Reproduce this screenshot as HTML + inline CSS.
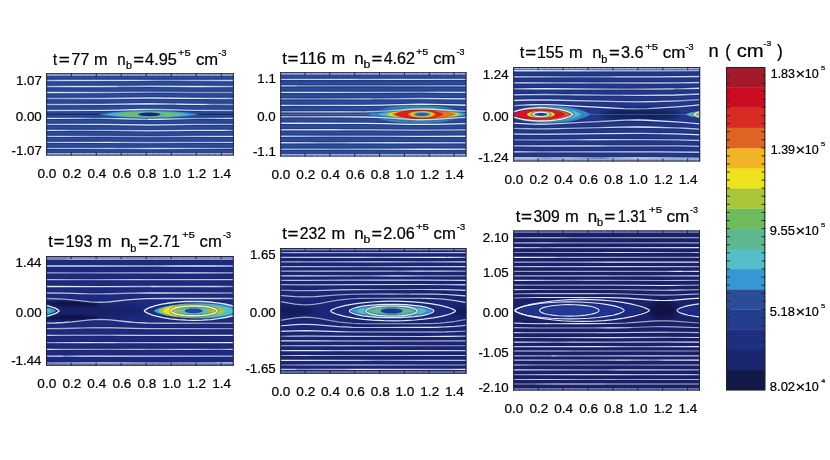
<!DOCTYPE html><html><head><meta charset="utf-8"><style>html,body{margin:0;padding:0;background:#fff;width:830px;height:460px;overflow:hidden}svg text{font-family:"Liberation Sans",Arial,sans-serif}</style></head><body><svg width="830" height="460" viewBox="0 0 830 460" style="position:absolute;left:0;top:0">
<defs><filter id="bl" x="-5%" y="-5%" width="110%" height="110%"><feGaussianBlur stdDeviation="0.6"/></filter><filter id="g2" x="-50%" y="-50%" width="200%" height="200%"><feGaussianBlur stdDeviation="2"/></filter><filter id="g4" x="-50%" y="-50%" width="200%" height="200%"><feGaussianBlur stdDeviation="4"/></filter><filter id="g1" x="-50%" y="-50%" width="200%" height="200%"><feGaussianBlur stdDeviation="1"/></filter><filter id="bl2" x="-5%" y="-5%" width="110%" height="110%"><feGaussianBlur stdDeviation="0.3"/></filter></defs>
<rect width="830" height="460" fill="#fff"/>
<clipPath id="cp0"><rect x="46.2" y="73.3" width="187.60" height="82.20"/></clipPath>
<g clip-path="url(#cp0)">
<rect x="46.2" y="73.3" width="187.60" height="82.20" fill="#2a4a9a"/>
<path d="M46,114.40H110" stroke="#16245e" stroke-width="1.1" opacity="0.9"/>
<path d="M190,114.40H234" stroke="#16245e" stroke-width="1.1" opacity="0.9"/>
<g filter="url(#bl)">
<path d="M99.0,114.4 111.0,112.6 123.0,111.3 135.9,110.5 148.1,110.2 160.4,110.4 167.1,110.8 173.5,111.2 185.9,112.5 192.2,113.3 199.0,114.4 187.0,116.2 175.0,117.5 162.1,118.3 149.9,118.6 137.6,118.4 130.9,118.0 124.5,117.6 112.1,116.3 105.8,115.5 99.0,114.4Z" fill="#3a8ccc"/>
<path d="M106.0,114.4 116.0,113.0 126.1,111.9 137.0,111.2 147.3,111.0 157.6,111.2 168.6,111.8 179.0,112.8 190.0,114.4 180.0,115.8 169.9,116.9 159.0,117.6 148.7,117.8 138.4,117.6 127.4,117.0 117.0,116.0 106.0,114.4Z" fill="#4fb4cc"/>
<path d="M116.5,114.4 118.1,113.9 120.9,113.4 129.1,112.4 138.0,111.8 147.9,111.6 158.0,111.8 167.0,112.4 175.5,113.3 178.9,113.9 180.5,114.4 178.9,114.9 176.1,115.4 167.9,116.4 159.0,117.0 149.1,117.2 139.0,117.0 130.0,116.4 121.5,115.5 118.1,114.9 116.5,114.4Z" fill="#6fbf5c"/>
<path d="M134.0,114.4 134.3,114.0 135.4,113.6 138.8,112.9 143.9,112.5 149.2,112.3 154.6,112.4 159.8,112.9 162.0,113.2 163.6,113.6 164.7,114.0 165.0,114.4 164.7,114.8 163.6,115.2 160.2,115.9 155.1,116.3 149.8,116.5 144.4,116.4 139.2,115.9 137.0,115.6 135.4,115.2 134.3,114.8 134.0,114.4Z" fill="#4cb4c8"/>
<path d="M138.3,114.4 138.5,114.1 139.1,113.7 141.5,113.1 145.0,112.7 149.1,112.6 153.3,112.7 156.9,113.1 159.5,113.7 160.1,114.0 160.3,114.4 160.1,114.7 159.5,115.1 157.1,115.7 153.6,116.1 149.5,116.2 145.3,116.1 141.7,115.7 139.1,115.1 138.5,114.8 138.3,114.4Z" fill="#1a2870"/>
</g>
<g fill="none" stroke="#13235e" stroke-width="3.4" opacity="0.35" filter="url(#bl)"><path d="M44.2,110.50 104.2,110.40 118.2,110.16 140.2,109.52 150.2,109.40 160.2,109.51 194.2,110.37 235.2,110.50"/><path d="M44.2,118.30 104.2,118.40 118.2,118.64 140.2,119.28 150.2,119.40 160.2,119.29 194.2,118.43 235.2,118.30"/><path d="M44.2,104.50 104.2,104.43 150.2,103.76 194.2,104.41 235.2,104.50"/><path d="M44.2,124.30 104.2,124.37 150.2,125.04 194.2,124.39 235.2,124.30"/><path d="M44.2,98.50 104.2,98.45 150.2,98.01 194.2,98.44 235.2,98.50"/><path d="M44.2,130.30 104.2,130.35 150.2,130.79 194.2,130.36 235.2,130.30"/><path d="M44.2,92.50 104.2,92.47 150.2,92.17 194.2,92.46 235.2,92.50"/><path d="M44.2,136.30 104.2,136.33 150.2,136.63 194.2,136.34 235.2,136.30"/><path d="M44.2,86.50 104.2,86.48 150.2,86.28 194.2,86.47 235.2,86.50"/><path d="M44.2,142.30 104.2,142.32 150.2,142.52 194.2,142.33 235.2,142.30"/><path d="M44.2,80.50 150.2,80.35 235.2,80.50"/><path d="M44.2,148.30 150.2,148.45 235.2,148.30"/><path d="M44.2,74.50 150.2,74.40 235.2,74.50"/><path d="M44.2,154.30 150.2,154.40 235.2,154.30"/></g>
<defs><linearGradient id="lg0_0" gradientUnits="userSpaceOnUse" x1="46.2" y1="0" x2="233.8" y2="0"><stop offset="0.00" stop-color="#eef4fd" stop-opacity="0.79"/><stop offset="0.17" stop-color="#eef4fd" stop-opacity="0.80"/><stop offset="0.48" stop-color="#eef4fd" stop-opacity="0.95"/><stop offset="0.58" stop-color="#eef4fd" stop-opacity="0.73"/><stop offset="0.87" stop-color="#eef4fd" stop-opacity="0.78"/><stop offset="1.00" stop-color="#eef4fd" stop-opacity="0.60"/></linearGradient><linearGradient id="lg0_1" gradientUnits="userSpaceOnUse" x1="46.2" y1="0" x2="233.8" y2="0"><stop offset="0.00" stop-color="#eef4fd" stop-opacity="0.96"/><stop offset="0.19" stop-color="#eef4fd" stop-opacity="0.69"/><stop offset="0.26" stop-color="#eef4fd" stop-opacity="0.51"/><stop offset="0.41" stop-color="#eef4fd" stop-opacity="0.89"/><stop offset="0.54" stop-color="#eef4fd" stop-opacity="0.58"/><stop offset="0.54" stop-color="#eef4fd" stop-opacity="0.98"/><stop offset="0.82" stop-color="#eef4fd" stop-opacity="0.52"/><stop offset="1.00" stop-color="#eef4fd" stop-opacity="0.89"/></linearGradient><linearGradient id="lg0_2" gradientUnits="userSpaceOnUse" x1="46.2" y1="0" x2="233.8" y2="0"><stop offset="0.00" stop-color="#eef4fd" stop-opacity="0.70"/><stop offset="0.48" stop-color="#eef4fd" stop-opacity="0.90"/><stop offset="0.69" stop-color="#eef4fd" stop-opacity="0.72"/><stop offset="0.70" stop-color="#eef4fd" stop-opacity="0.97"/><stop offset="0.84" stop-color="#eef4fd" stop-opacity="0.94"/><stop offset="0.88" stop-color="#eef4fd" stop-opacity="0.55"/><stop offset="1.00" stop-color="#eef4fd" stop-opacity="0.57"/></linearGradient><linearGradient id="lg0_3" gradientUnits="userSpaceOnUse" x1="46.2" y1="0" x2="233.8" y2="0"><stop offset="0.00" stop-color="#eef4fd" stop-opacity="0.71"/><stop offset="0.28" stop-color="#eef4fd" stop-opacity="0.92"/><stop offset="0.65" stop-color="#eef4fd" stop-opacity="0.79"/><stop offset="0.75" stop-color="#eef4fd" stop-opacity="0.77"/><stop offset="0.82" stop-color="#eef4fd" stop-opacity="0.70"/><stop offset="1.00" stop-color="#eef4fd" stop-opacity="0.62"/></linearGradient><linearGradient id="lg0_4" gradientUnits="userSpaceOnUse" x1="46.2" y1="0" x2="233.8" y2="0"><stop offset="0.00" stop-color="#eef4fd" stop-opacity="0.58"/><stop offset="0.65" stop-color="#eef4fd" stop-opacity="0.93"/><stop offset="0.66" stop-color="#eef4fd" stop-opacity="0.98"/><stop offset="0.82" stop-color="#eef4fd" stop-opacity="0.95"/><stop offset="0.89" stop-color="#eef4fd" stop-opacity="0.78"/><stop offset="0.94" stop-color="#eef4fd" stop-opacity="0.86"/><stop offset="1.00" stop-color="#eef4fd" stop-opacity="0.61"/></linearGradient><linearGradient id="lg0_5" gradientUnits="userSpaceOnUse" x1="46.2" y1="0" x2="233.8" y2="0"><stop offset="0.00" stop-color="#eef4fd" stop-opacity="0.90"/><stop offset="0.11" stop-color="#eef4fd" stop-opacity="0.71"/><stop offset="0.13" stop-color="#eef4fd" stop-opacity="0.58"/><stop offset="0.31" stop-color="#eef4fd" stop-opacity="0.65"/><stop offset="0.82" stop-color="#eef4fd" stop-opacity="0.88"/><stop offset="0.94" stop-color="#eef4fd" stop-opacity="0.94"/><stop offset="1.00" stop-color="#eef4fd" stop-opacity="0.52"/></linearGradient><linearGradient id="lg0_6" gradientUnits="userSpaceOnUse" x1="46.2" y1="0" x2="233.8" y2="0"><stop offset="0.00" stop-color="#eef4fd" stop-opacity="0.96"/><stop offset="0.39" stop-color="#eef4fd" stop-opacity="0.64"/><stop offset="0.55" stop-color="#eef4fd" stop-opacity="0.62"/><stop offset="0.58" stop-color="#eef4fd" stop-opacity="0.52"/><stop offset="1.00" stop-color="#eef4fd" stop-opacity="0.50"/></linearGradient><linearGradient id="lg0_7" gradientUnits="userSpaceOnUse" x1="46.2" y1="0" x2="233.8" y2="0"><stop offset="0.00" stop-color="#eef4fd" stop-opacity="0.70"/><stop offset="0.08" stop-color="#eef4fd" stop-opacity="0.81"/><stop offset="0.23" stop-color="#eef4fd" stop-opacity="0.58"/><stop offset="0.59" stop-color="#eef4fd" stop-opacity="0.52"/><stop offset="1.00" stop-color="#eef4fd" stop-opacity="0.93"/></linearGradient><linearGradient id="lg0_8" gradientUnits="userSpaceOnUse" x1="46.2" y1="0" x2="233.8" y2="0"><stop offset="0.00" stop-color="#eef4fd" stop-opacity="0.69"/><stop offset="0.17" stop-color="#eef4fd" stop-opacity="0.93"/><stop offset="0.37" stop-color="#eef4fd" stop-opacity="0.84"/><stop offset="0.39" stop-color="#eef4fd" stop-opacity="0.55"/><stop offset="0.83" stop-color="#eef4fd" stop-opacity="0.99"/><stop offset="0.83" stop-color="#eef4fd" stop-opacity="0.91"/><stop offset="1.00" stop-color="#eef4fd" stop-opacity="0.64"/></linearGradient><linearGradient id="lg0_9" gradientUnits="userSpaceOnUse" x1="46.2" y1="0" x2="233.8" y2="0"><stop offset="0.00" stop-color="#eef4fd" stop-opacity="0.67"/><stop offset="0.28" stop-color="#eef4fd" stop-opacity="0.89"/><stop offset="0.32" stop-color="#eef4fd" stop-opacity="0.99"/><stop offset="0.44" stop-color="#eef4fd" stop-opacity="0.66"/><stop offset="0.89" stop-color="#eef4fd" stop-opacity="0.69"/><stop offset="1.00" stop-color="#eef4fd" stop-opacity="0.79"/></linearGradient><linearGradient id="lg0_10" gradientUnits="userSpaceOnUse" x1="46.2" y1="0" x2="233.8" y2="0"><stop offset="0.00" stop-color="#eef4fd" stop-opacity="0.68"/><stop offset="0.10" stop-color="#eef4fd" stop-opacity="0.85"/><stop offset="0.47" stop-color="#eef4fd" stop-opacity="0.87"/><stop offset="0.61" stop-color="#eef4fd" stop-opacity="0.51"/><stop offset="0.66" stop-color="#eef4fd" stop-opacity="0.53"/><stop offset="1.00" stop-color="#eef4fd" stop-opacity="0.84"/></linearGradient><linearGradient id="lg0_11" gradientUnits="userSpaceOnUse" x1="46.2" y1="0" x2="233.8" y2="0"><stop offset="0.00" stop-color="#eef4fd" stop-opacity="0.66"/><stop offset="0.28" stop-color="#eef4fd" stop-opacity="0.68"/><stop offset="0.34" stop-color="#eef4fd" stop-opacity="0.80"/><stop offset="0.38" stop-color="#eef4fd" stop-opacity="0.65"/><stop offset="0.46" stop-color="#eef4fd" stop-opacity="0.69"/><stop offset="0.58" stop-color="#eef4fd" stop-opacity="0.89"/><stop offset="1.00" stop-color="#eef4fd" stop-opacity="0.51"/></linearGradient><linearGradient id="lg0_12" gradientUnits="userSpaceOnUse" x1="46.2" y1="0" x2="233.8" y2="0"><stop offset="0.00" stop-color="#eef4fd" stop-opacity="0.59"/><stop offset="0.25" stop-color="#eef4fd" stop-opacity="0.72"/><stop offset="0.26" stop-color="#eef4fd" stop-opacity="0.85"/><stop offset="0.33" stop-color="#eef4fd" stop-opacity="0.55"/><stop offset="0.77" stop-color="#eef4fd" stop-opacity="0.66"/><stop offset="1.00" stop-color="#eef4fd" stop-opacity="0.67"/></linearGradient><linearGradient id="lg0_13" gradientUnits="userSpaceOnUse" x1="46.2" y1="0" x2="233.8" y2="0"><stop offset="0.00" stop-color="#eef4fd" stop-opacity="0.83"/><stop offset="0.20" stop-color="#eef4fd" stop-opacity="0.94"/><stop offset="0.35" stop-color="#eef4fd" stop-opacity="0.73"/><stop offset="0.44" stop-color="#eef4fd" stop-opacity="0.61"/><stop offset="0.82" stop-color="#eef4fd" stop-opacity="0.56"/><stop offset="1.00" stop-color="#eef4fd" stop-opacity="0.76"/></linearGradient></defs>
<g fill="none" stroke-width="1.35" filter="url(#bl2)">
<path d="M44.2,110.50 104.2,110.40 118.2,110.16 140.2,109.52 150.2,109.40 160.2,109.51 194.2,110.37 235.2,110.50" stroke="url(#lg0_0)"/>
<path d="M44.2,118.30 104.2,118.40 118.2,118.64 140.2,119.28 150.2,119.40 160.2,119.29 194.2,118.43 235.2,118.30" stroke="url(#lg0_1)"/>
<path d="M44.2,104.50 104.2,104.43 150.2,103.76 194.2,104.41 235.2,104.50" stroke="url(#lg0_2)"/>
<path d="M44.2,124.30 104.2,124.37 150.2,125.04 194.2,124.39 235.2,124.30" stroke="url(#lg0_3)"/>
<path d="M44.2,98.50 104.2,98.45 150.2,98.01 194.2,98.44 235.2,98.50" stroke="url(#lg0_4)"/>
<path d="M44.2,130.30 104.2,130.35 150.2,130.79 194.2,130.36 235.2,130.30" stroke="url(#lg0_5)"/>
<path d="M44.2,92.50 104.2,92.47 150.2,92.17 194.2,92.46 235.2,92.50" stroke="url(#lg0_6)"/>
<path d="M44.2,136.30 104.2,136.33 150.2,136.63 194.2,136.34 235.2,136.30" stroke="url(#lg0_7)"/>
<path d="M44.2,86.50 104.2,86.48 150.2,86.28 194.2,86.47 235.2,86.50" stroke="url(#lg0_8)"/>
<path d="M44.2,142.30 104.2,142.32 150.2,142.52 194.2,142.33 235.2,142.30" stroke="url(#lg0_9)"/>
<path d="M44.2,80.50 150.2,80.35 235.2,80.50" stroke="url(#lg0_10)"/>
<path d="M44.2,148.30 150.2,148.45 235.2,148.30" stroke="url(#lg0_11)"/>
<path d="M44.2,74.50 150.2,74.40 235.2,74.50" stroke="url(#lg0_12)"/>
<path d="M44.2,154.30 150.2,154.40 235.2,154.30" stroke="url(#lg0_13)"/>
</g>
</g>
<rect x="46.2" y="74.10" width="187.60" height="1.6" fill="#a6b8e0"/>
<rect x="46.2" y="153.10" width="187.60" height="1.6" fill="#a6b8e0"/>
<rect x="46.2" y="73.30" width="187.60" height="0.9" fill="#262a3a"/>
<rect x="46.2" y="154.60" width="187.60" height="0.9" fill="#262a3a"/>
<rect x="46.20" y="73.30" width="1" height="82.20" fill="#1c2236"/>
<rect x="232.80" y="73.30" width="1" height="82.20" fill="#1c2236"/>
<path d="M71.21,73.30v3M71.21,155.50v-3M96.23,73.30v3M96.23,155.50v-3M121.24,73.30v3M121.24,155.50v-3M146.25,73.30v3M146.25,155.50v-3M171.27,73.30v3M171.27,155.50v-3M196.28,73.30v3M196.28,155.50v-3M221.29,73.30v3M221.29,155.50v-3" stroke="#20242e" stroke-width="1" fill="none"/>
<path d="M52.45,73.30v2M52.45,155.50v-2M58.71,73.30v2M58.71,155.50v-2M64.96,73.30v2M64.96,155.50v-2M77.47,73.30v2M77.47,155.50v-2M83.72,73.30v2M83.72,155.50v-2M89.97,73.30v2M89.97,155.50v-2M102.48,73.30v2M102.48,155.50v-2M108.73,73.30v2M108.73,155.50v-2M114.99,73.30v2M114.99,155.50v-2M127.49,73.30v2M127.49,155.50v-2M133.75,73.30v2M133.75,155.50v-2M140.00,73.30v2M140.00,155.50v-2M152.51,73.30v2M152.51,155.50v-2M158.76,73.30v2M158.76,155.50v-2M165.01,73.30v2M165.01,155.50v-2M177.52,73.30v2M177.52,155.50v-2M183.77,73.30v2M183.77,155.50v-2M190.03,73.30v2M190.03,155.50v-2M202.53,73.30v2M202.53,155.50v-2M208.79,73.30v2M208.79,155.50v-2M215.04,73.30v2M215.04,155.50v-2M227.55,73.30v2M227.55,155.50v-2" stroke="#20242e" stroke-width="0.8" fill="none" opacity="0.3"/>
<clipPath id="cp1"><rect x="280.2" y="72.2" width="186.30" height="84.30"/></clipPath>
<g clip-path="url(#cp1)">
<rect x="280.2" y="72.2" width="186.30" height="84.30" fill="#2a4a9a"/>
<path d="M280,114.35H372" stroke="#8a7470" stroke-width="0.8" opacity="0.9"/>
<g filter="url(#bl)">
<path d="M368.0,114.3 369.1,113.6 371.1,112.7 376.7,110.7 382.3,109.1 389.0,107.6 396.6,106.3 403.2,105.5 410.1,105.0 417.1,104.9 424.2,105.0 431.1,105.4 437.7,106.1 445.5,107.3 452.4,108.8 459.3,110.7 464.9,112.7 466.9,113.6 468.0,114.3 466.9,115.1 464.9,116.0 459.3,118.0 453.7,119.6 447.0,121.1 439.4,122.4 432.8,123.2 425.9,123.7 418.9,123.8 411.8,123.7 404.9,123.3 398.3,122.6 390.5,121.4 383.6,119.9 376.7,118.0 371.1,116.0 369.1,115.1 368.0,114.3Z" fill="#3584c8"/>
<path d="M378.0,114.3 379.0,113.8 380.7,113.2 385.5,111.6 390.3,110.5 396.1,109.4 402.6,108.4 408.3,107.9 414.2,107.5 420.2,107.4 426.3,107.4 432.3,107.8 438.0,108.3 444.7,109.2 450.6,110.2 456.5,111.6 461.3,113.2 463.0,113.8 464.0,114.3 463.0,114.9 461.3,115.5 456.5,117.1 451.7,118.2 445.9,119.3 439.4,120.3 433.7,120.8 427.8,121.2 421.8,121.3 415.7,121.3 409.7,120.9 404.0,120.4 397.3,119.5 391.4,118.5 385.5,117.1 380.7,115.5 379.0,114.9 378.0,114.3Z" fill="#4bb2cf"/>
<path d="M385.0,114.3 387.3,113.4 391.6,112.2 395.9,111.3 401.0,110.4 406.8,109.7 411.8,109.3 417.0,109.0 422.3,108.9 427.7,108.9 432.9,109.2 438.0,109.6 443.9,110.3 449.1,111.1 454.4,112.2 458.7,113.4 461.0,114.3 458.7,115.3 454.4,116.5 450.1,117.4 445.0,118.3 439.2,119.0 434.2,119.4 429.0,119.7 423.7,119.8 418.3,119.8 413.1,119.5 408.0,119.1 402.1,118.4 396.9,117.6 391.6,116.5 387.3,115.3 385.0,114.3Z" fill="#a9c63b"/>
<path d="M388.0,114.3 388.5,114.0 389.8,113.5 392.8,112.5 397.2,111.5 401.7,110.7 406.9,110.0 411.5,109.6 417.5,109.3 422.4,109.2 427.3,109.2 433.3,109.5 437.9,109.9 443.3,110.6 448.0,111.3 452.6,112.4 456.2,113.5 457.5,114.0 458.0,114.3 457.5,114.7 456.2,115.2 453.2,116.2 448.8,117.2 444.3,118.0 439.1,118.7 434.5,119.1 428.5,119.4 423.6,119.5 418.7,119.5 412.7,119.2 408.1,118.8 402.7,118.1 398.0,117.4 393.4,116.3 389.8,115.2 388.5,114.7 388.0,114.3Z" fill="#eee21f"/>
<path d="M392.0,114.3 392.3,114.1 393.3,113.6 396.4,112.5 400.4,111.6 404.6,110.8 409.3,110.2 413.5,109.8 418.9,109.5 423.4,109.5 427.9,109.5 433.5,109.8 438.7,110.2 443.4,110.8 447.6,111.6 451.6,112.5 454.7,113.6 455.7,114.1 456.0,114.3 455.7,114.6 454.7,115.1 451.6,116.2 447.6,117.1 443.4,117.9 438.7,118.5 434.5,118.9 429.1,119.2 424.6,119.2 420.1,119.2 414.5,118.9 409.3,118.5 404.6,117.9 400.4,117.1 396.4,116.2 393.3,115.1 392.3,114.6 392.0,114.3Z" fill="#e8721f"/>
<path d="M395.0,114.3 395.2,114.0 395.7,113.6 397.5,112.7 400.2,111.9 403.1,111.2 406.5,110.7 410.3,110.2 414.4,110.0 418.6,109.9 422.8,109.9 426.9,110.2 430.8,110.6 434.2,111.1 437.3,111.7 440.1,112.6 442.0,113.4 442.8,114.0 443.0,114.3 442.8,114.7 442.3,115.1 440.5,116.0 437.8,116.8 434.9,117.5 431.5,118.0 427.7,118.5 423.6,118.7 419.4,118.8 415.2,118.8 411.1,118.5 407.2,118.1 403.8,117.6 400.7,117.0 397.9,116.1 396.0,115.3 395.2,114.7 395.0,114.3Z" fill="#d8201f"/>
<path d="M408.0,114.3 408.2,113.8 409.0,113.1 410.2,112.5 412.0,112.0 413.9,111.6 416.5,111.2 421.8,111.0 427.1,111.2 429.3,111.4 431.6,111.9 433.3,112.3 434.8,113.0 435.7,113.6 435.9,114.0 436.0,114.3 435.8,114.9 435.0,115.6 433.8,116.2 432.0,116.7 430.1,117.1 427.5,117.5 422.2,117.7 419.3,117.7 416.5,117.5 413.9,117.1 412.0,116.7 410.2,116.2 409.0,115.6 408.2,114.9 408.0,114.3Z" fill="#e87020"/>
<path d="M410.5,114.3 410.7,113.8 411.4,113.3 412.3,112.8 413.8,112.3 417.5,111.7 421.8,111.5 426.2,111.6 428.3,111.9 430.2,112.3 431.7,112.8 432.6,113.3 433.2,113.7 433.5,114.3 433.3,114.9 432.6,115.4 431.7,115.9 430.2,116.4 426.5,117.0 422.2,117.2 417.8,117.1 414.1,116.5 412.5,116.0 411.4,115.4 410.8,115.0 410.5,114.3Z" fill="#eee21f"/>
<path d="M412.5,114.3 412.6,113.9 413.2,113.4 414.0,113.0 415.2,112.6 418.2,112.1 421.8,111.9 425.4,112.0 428.5,112.5 429.6,112.9 430.7,113.3 431.3,113.8 431.5,114.3 431.4,114.8 430.8,115.3 430.0,115.7 428.8,116.1 425.8,116.6 422.2,116.8 418.6,116.7 415.5,116.2 414.4,115.8 413.3,115.4 412.7,114.9 412.5,114.3Z" fill="#6dbb5d"/>
<path d="M413.8,114.3 413.9,114.0 414.4,113.6 416.2,112.9 418.8,112.4 421.9,112.3 425.0,112.4 427.6,112.8 428.8,113.2 429.6,113.6 430.0,113.9 430.2,114.3 430.1,114.7 429.6,115.1 427.8,115.8 425.2,116.3 422.1,116.4 419.0,116.3 416.4,115.9 414.5,115.2 414.0,114.8 413.8,114.3Z" fill="#55bec8"/>
<path d="M415.0,114.3 415.1,114.1 415.5,113.7 417.0,113.2 419.2,112.9 421.9,112.8 424.5,112.9 426.8,113.2 428.5,113.7 428.9,114.1 429.0,114.3 428.9,114.6 428.5,115.0 427.0,115.5 424.8,115.8 422.1,115.9 419.5,115.8 417.0,115.5 415.5,115.0 415.2,114.7 415.0,114.3Z" fill="#2b5aa8"/>
</g>
<g fill="none" stroke="#13235e" stroke-width="3.4" opacity="0.35" filter="url(#bl)"><path d="M278.2,111.95 344.2,111.93 366.2,111.71 383.2,111.07 410.2,109.27 421.2,108.95 427.2,109.02 434.2,109.29 457.2,110.86 468.2,111.42"/><path d="M278.2,116.75 344.2,116.77 366.2,116.99 383.2,117.63 410.2,119.43 421.2,119.75 427.2,119.68 434.2,119.41 457.2,117.84 468.2,117.28"/><path d="M278.2,105.45 366.2,105.36 383.2,105.10 410.2,104.39 421.2,104.27 434.2,104.40 468.2,105.24"/><path d="M278.2,123.25 366.2,123.34 383.2,123.60 410.2,124.31 421.2,124.43 434.2,124.30 468.2,123.46"/><path d="M278.2,98.95 366.2,98.91 421.2,98.48 468.2,98.87"/><path d="M278.2,129.75 366.2,129.79 421.2,130.22 468.2,129.83"/><path d="M278.2,92.45 366.2,92.44 421.2,92.27 468.2,92.42"/><path d="M278.2,136.25 366.2,136.26 421.2,136.43 468.2,136.28"/><path d="M278.2,85.95 468.2,85.94"/><path d="M278.2,142.75 468.2,142.76"/><path d="M278.2,79.45 468.2,79.44"/><path d="M278.2,149.25 468.2,149.26"/><path d="M278.2,72.95 468.2,72.95"/><path d="M278.2,155.75 468.2,155.75"/></g>
<defs><linearGradient id="lg1_0" gradientUnits="userSpaceOnUse" x1="280.2" y1="0" x2="466.5" y2="0"><stop offset="0.00" stop-color="#eef4fd" stop-opacity="0.67"/><stop offset="0.33" stop-color="#eef4fd" stop-opacity="0.91"/><stop offset="0.57" stop-color="#eef4fd" stop-opacity="0.54"/><stop offset="0.80" stop-color="#eef4fd" stop-opacity="0.81"/><stop offset="0.83" stop-color="#eef4fd" stop-opacity="0.79"/><stop offset="1.00" stop-color="#eef4fd" stop-opacity="0.71"/></linearGradient><linearGradient id="lg1_1" gradientUnits="userSpaceOnUse" x1="280.2" y1="0" x2="466.5" y2="0"><stop offset="0.00" stop-color="#eef4fd" stop-opacity="0.71"/><stop offset="0.08" stop-color="#eef4fd" stop-opacity="0.60"/><stop offset="0.31" stop-color="#eef4fd" stop-opacity="0.74"/><stop offset="0.47" stop-color="#eef4fd" stop-opacity="0.92"/><stop offset="0.56" stop-color="#eef4fd" stop-opacity="0.81"/><stop offset="0.62" stop-color="#eef4fd" stop-opacity="0.76"/><stop offset="1.00" stop-color="#eef4fd" stop-opacity="0.78"/></linearGradient><linearGradient id="lg1_2" gradientUnits="userSpaceOnUse" x1="280.2" y1="0" x2="466.5" y2="0"><stop offset="0.00" stop-color="#eef4fd" stop-opacity="0.98"/><stop offset="0.08" stop-color="#eef4fd" stop-opacity="0.77"/><stop offset="0.46" stop-color="#eef4fd" stop-opacity="0.94"/><stop offset="0.72" stop-color="#eef4fd" stop-opacity="0.93"/><stop offset="0.73" stop-color="#eef4fd" stop-opacity="0.93"/><stop offset="1.00" stop-color="#eef4fd" stop-opacity="0.99"/></linearGradient><linearGradient id="lg1_3" gradientUnits="userSpaceOnUse" x1="280.2" y1="0" x2="466.5" y2="0"><stop offset="0.00" stop-color="#eef4fd" stop-opacity="0.85"/><stop offset="0.09" stop-color="#eef4fd" stop-opacity="0.96"/><stop offset="0.78" stop-color="#eef4fd" stop-opacity="0.95"/><stop offset="0.86" stop-color="#eef4fd" stop-opacity="0.95"/><stop offset="1.00" stop-color="#eef4fd" stop-opacity="0.79"/></linearGradient><linearGradient id="lg1_4" gradientUnits="userSpaceOnUse" x1="280.2" y1="0" x2="466.5" y2="0"><stop offset="0.00" stop-color="#eef4fd" stop-opacity="0.62"/><stop offset="0.16" stop-color="#eef4fd" stop-opacity="0.51"/><stop offset="0.48" stop-color="#eef4fd" stop-opacity="0.77"/><stop offset="0.50" stop-color="#eef4fd" stop-opacity="0.53"/><stop offset="1.00" stop-color="#eef4fd" stop-opacity="0.96"/></linearGradient><linearGradient id="lg1_5" gradientUnits="userSpaceOnUse" x1="280.2" y1="0" x2="466.5" y2="0"><stop offset="0.00" stop-color="#eef4fd" stop-opacity="0.74"/><stop offset="0.28" stop-color="#eef4fd" stop-opacity="0.89"/><stop offset="0.36" stop-color="#eef4fd" stop-opacity="0.68"/><stop offset="0.83" stop-color="#eef4fd" stop-opacity="0.60"/><stop offset="1.00" stop-color="#eef4fd" stop-opacity="0.77"/></linearGradient><linearGradient id="lg1_6" gradientUnits="userSpaceOnUse" x1="280.2" y1="0" x2="466.5" y2="0"><stop offset="0.00" stop-color="#eef4fd" stop-opacity="0.90"/><stop offset="0.20" stop-color="#eef4fd" stop-opacity="0.91"/><stop offset="0.76" stop-color="#eef4fd" stop-opacity="0.50"/><stop offset="0.88" stop-color="#eef4fd" stop-opacity="0.81"/><stop offset="1.00" stop-color="#eef4fd" stop-opacity="0.93"/></linearGradient><linearGradient id="lg1_7" gradientUnits="userSpaceOnUse" x1="280.2" y1="0" x2="466.5" y2="0"><stop offset="0.00" stop-color="#eef4fd" stop-opacity="0.76"/><stop offset="0.27" stop-color="#eef4fd" stop-opacity="0.53"/><stop offset="0.61" stop-color="#eef4fd" stop-opacity="0.66"/><stop offset="0.73" stop-color="#eef4fd" stop-opacity="0.91"/><stop offset="1.00" stop-color="#eef4fd" stop-opacity="0.93"/></linearGradient><linearGradient id="lg1_8" gradientUnits="userSpaceOnUse" x1="280.2" y1="0" x2="466.5" y2="0"><stop offset="0.00" stop-color="#eef4fd" stop-opacity="0.86"/><stop offset="0.08" stop-color="#eef4fd" stop-opacity="0.76"/><stop offset="0.09" stop-color="#eef4fd" stop-opacity="0.74"/><stop offset="0.09" stop-color="#eef4fd" stop-opacity="0.58"/><stop offset="0.48" stop-color="#eef4fd" stop-opacity="0.54"/><stop offset="1.00" stop-color="#eef4fd" stop-opacity="0.69"/></linearGradient><linearGradient id="lg1_9" gradientUnits="userSpaceOnUse" x1="280.2" y1="0" x2="466.5" y2="0"><stop offset="0.00" stop-color="#eef4fd" stop-opacity="0.86"/><stop offset="0.16" stop-color="#eef4fd" stop-opacity="0.69"/><stop offset="0.22" stop-color="#eef4fd" stop-opacity="0.54"/><stop offset="0.35" stop-color="#eef4fd" stop-opacity="0.59"/><stop offset="0.37" stop-color="#eef4fd" stop-opacity="0.69"/><stop offset="0.55" stop-color="#eef4fd" stop-opacity="0.80"/><stop offset="0.58" stop-color="#eef4fd" stop-opacity="0.89"/><stop offset="1.00" stop-color="#eef4fd" stop-opacity="0.69"/></linearGradient><linearGradient id="lg1_10" gradientUnits="userSpaceOnUse" x1="280.2" y1="0" x2="466.5" y2="0"><stop offset="0.00" stop-color="#eef4fd" stop-opacity="0.75"/><stop offset="0.39" stop-color="#eef4fd" stop-opacity="0.85"/><stop offset="0.44" stop-color="#eef4fd" stop-opacity="0.71"/><stop offset="0.61" stop-color="#eef4fd" stop-opacity="0.85"/><stop offset="1.00" stop-color="#eef4fd" stop-opacity="0.73"/></linearGradient><linearGradient id="lg1_11" gradientUnits="userSpaceOnUse" x1="280.2" y1="0" x2="466.5" y2="0"><stop offset="0.00" stop-color="#eef4fd" stop-opacity="0.61"/><stop offset="0.25" stop-color="#eef4fd" stop-opacity="0.57"/><stop offset="0.29" stop-color="#eef4fd" stop-opacity="0.51"/><stop offset="0.58" stop-color="#eef4fd" stop-opacity="0.66"/><stop offset="0.77" stop-color="#eef4fd" stop-opacity="0.98"/><stop offset="1.00" stop-color="#eef4fd" stop-opacity="0.78"/></linearGradient><linearGradient id="lg1_12" gradientUnits="userSpaceOnUse" x1="280.2" y1="0" x2="466.5" y2="0"><stop offset="0.00" stop-color="#eef4fd" stop-opacity="0.77"/><stop offset="0.16" stop-color="#eef4fd" stop-opacity="0.69"/><stop offset="0.67" stop-color="#eef4fd" stop-opacity="0.55"/><stop offset="0.71" stop-color="#eef4fd" stop-opacity="0.66"/><stop offset="0.81" stop-color="#eef4fd" stop-opacity="0.77"/><stop offset="0.90" stop-color="#eef4fd" stop-opacity="0.91"/><stop offset="1.00" stop-color="#eef4fd" stop-opacity="0.86"/></linearGradient><linearGradient id="lg1_13" gradientUnits="userSpaceOnUse" x1="280.2" y1="0" x2="466.5" y2="0"><stop offset="0.00" stop-color="#eef4fd" stop-opacity="0.59"/><stop offset="0.09" stop-color="#eef4fd" stop-opacity="0.51"/><stop offset="0.13" stop-color="#eef4fd" stop-opacity="0.92"/><stop offset="0.14" stop-color="#eef4fd" stop-opacity="0.56"/><stop offset="0.18" stop-color="#eef4fd" stop-opacity="0.92"/><stop offset="0.75" stop-color="#eef4fd" stop-opacity="0.84"/><stop offset="0.84" stop-color="#eef4fd" stop-opacity="0.92"/><stop offset="1.00" stop-color="#eef4fd" stop-opacity="0.98"/></linearGradient></defs>
<g fill="none" stroke-width="1.35" filter="url(#bl2)">
<path d="M278.2,111.95 344.2,111.93 366.2,111.71 383.2,111.07 410.2,109.27 421.2,108.95 427.2,109.02 434.2,109.29 457.2,110.86 468.2,111.42" stroke="url(#lg1_0)"/>
<path d="M278.2,116.75 344.2,116.77 366.2,116.99 383.2,117.63 410.2,119.43 421.2,119.75 427.2,119.68 434.2,119.41 457.2,117.84 468.2,117.28" stroke="url(#lg1_1)"/>
<path d="M278.2,105.45 366.2,105.36 383.2,105.10 410.2,104.39 421.2,104.27 434.2,104.40 468.2,105.24" stroke="url(#lg1_2)"/>
<path d="M278.2,123.25 366.2,123.34 383.2,123.60 410.2,124.31 421.2,124.43 434.2,124.30 468.2,123.46" stroke="url(#lg1_3)"/>
<path d="M278.2,98.95 366.2,98.91 421.2,98.48 468.2,98.87" stroke="url(#lg1_4)"/>
<path d="M278.2,129.75 366.2,129.79 421.2,130.22 468.2,129.83" stroke="url(#lg1_5)"/>
<path d="M278.2,92.45 366.2,92.44 421.2,92.27 468.2,92.42" stroke="url(#lg1_6)"/>
<path d="M278.2,136.25 366.2,136.26 421.2,136.43 468.2,136.28" stroke="url(#lg1_7)"/>
<path d="M278.2,85.95 468.2,85.94" stroke="url(#lg1_8)"/>
<path d="M278.2,142.75 468.2,142.76" stroke="url(#lg1_9)"/>
<path d="M278.2,79.45 468.2,79.44" stroke="url(#lg1_10)"/>
<path d="M278.2,149.25 468.2,149.26" stroke="url(#lg1_11)"/>
<path d="M278.2,72.95 468.2,72.95" stroke="url(#lg1_12)"/>
<path d="M278.2,155.75 468.2,155.75" stroke="url(#lg1_13)"/>
</g>
</g>
<rect x="280.2" y="73.00" width="186.30" height="1.6" fill="#a6b8e0"/>
<rect x="280.2" y="154.10" width="186.30" height="1.6" fill="#a6b8e0"/>
<rect x="280.2" y="72.20" width="186.30" height="0.9" fill="#262a3a"/>
<rect x="280.2" y="155.60" width="186.30" height="0.9" fill="#262a3a"/>
<rect x="280.20" y="72.20" width="1" height="84.30" fill="#1c2236"/>
<rect x="465.50" y="72.20" width="1" height="84.30" fill="#1c2236"/>
<path d="M305.04,72.20v3M305.04,156.50v-3M329.88,72.20v3M329.88,156.50v-3M354.72,72.20v3M354.72,156.50v-3M379.56,72.20v3M379.56,156.50v-3M404.40,72.20v3M404.40,156.50v-3M429.24,72.20v3M429.24,156.50v-3M454.08,72.20v3M454.08,156.50v-3" stroke="#20242e" stroke-width="1" fill="none"/>
<path d="M286.41,72.20v2M286.41,156.50v-2M292.62,72.20v2M292.62,156.50v-2M298.83,72.20v2M298.83,156.50v-2M311.25,72.20v2M311.25,156.50v-2M317.46,72.20v2M317.46,156.50v-2M323.67,72.20v2M323.67,156.50v-2M336.09,72.20v2M336.09,156.50v-2M342.30,72.20v2M342.30,156.50v-2M348.51,72.20v2M348.51,156.50v-2M360.93,72.20v2M360.93,156.50v-2M367.14,72.20v2M367.14,156.50v-2M373.35,72.20v2M373.35,156.50v-2M385.77,72.20v2M385.77,156.50v-2M391.98,72.20v2M391.98,156.50v-2M398.19,72.20v2M398.19,156.50v-2M410.61,72.20v2M410.61,156.50v-2M416.82,72.20v2M416.82,156.50v-2M423.03,72.20v2M423.03,156.50v-2M435.45,72.20v2M435.45,156.50v-2M441.66,72.20v2M441.66,156.50v-2M447.87,72.20v2M447.87,156.50v-2M460.29,72.20v2M460.29,156.50v-2" stroke="#20242e" stroke-width="0.8" fill="none" opacity="0.3"/>
<clipPath id="cp2"><rect x="513.2" y="67.1" width="187.00" height="94.40"/></clipPath>
<g clip-path="url(#cp2)">
<rect x="513.2" y="67.1" width="187.00" height="94.40" fill="#23388c"/>
<ellipse cx="640" cy="114.40" rx="40" ry="6" fill="#0c1448" opacity="0.7" filter="url(#g2)"/>
<path d="M575,114.40H690" stroke="#3f9cb4" stroke-width="0.7" opacity="0.75"/>
<g filter="url(#bl)">
<path d="M506.0,114.4 506.7,113.8 508.1,112.9 511.8,111.3 517.0,109.5 522.5,108.1 528.7,106.9 534.2,106.2 541.4,105.6 547.3,105.4 553.2,105.5 560.4,106.0 565.9,106.7 572.3,107.8 578.0,109.2 583.5,111.0 585.7,111.8 587.9,112.9 589.3,113.8 590.0,114.4 589.3,115.0 587.9,115.9 584.2,117.5 579.0,119.3 573.5,120.7 567.3,121.9 561.8,122.6 554.6,123.2 548.7,123.4 542.8,123.3 535.6,122.8 530.1,122.1 523.7,121.0 518.0,119.6 512.5,117.8 510.3,117.0 508.1,115.9 506.7,115.0 506.0,114.4Z" fill="#3586c6"/>
<path d="M509.0,114.4 509.6,113.8 510.8,113.1 513.9,111.6 518.4,110.0 523.1,108.8 528.5,107.7 533.2,107.1 539.3,106.6 544.4,106.4 549.4,106.5 555.6,106.9 560.4,107.5 565.9,108.6 570.7,109.8 575.4,111.3 579.2,113.1 580.4,113.8 581.0,114.4 580.4,115.0 579.2,115.7 576.1,117.2 571.6,118.8 566.9,120.0 561.5,121.1 556.8,121.7 550.7,122.2 545.6,122.4 540.6,122.3 534.4,121.9 529.6,121.3 524.1,120.2 519.3,119.0 514.6,117.5 510.8,115.7 509.6,115.0 509.0,114.4Z" fill="#50b8cf"/>
<path d="M510.5,114.4 510.8,114.0 511.7,113.3 513.3,112.5 514.8,111.8 518.8,110.5 522.9,109.5 527.6,108.7 531.6,108.1 537.0,107.7 541.4,107.6 545.9,107.7 551.3,108.0 556.4,108.7 561.1,109.5 565.2,110.5 569.2,111.8 570.7,112.5 572.3,113.3 573.2,114.0 573.5,114.4 573.2,114.8 572.3,115.5 570.7,116.3 569.2,117.0 565.2,118.3 561.1,119.3 556.4,120.1 552.4,120.7 547.0,121.1 542.6,121.2 538.1,121.1 532.7,120.8 527.6,120.1 522.9,119.3 518.8,118.3 514.8,117.0 513.3,116.3 511.7,115.5 510.8,114.8 510.5,114.4Z" fill="#eedc20"/>
<path d="M511.5,114.4 511.8,113.9 512.7,113.3 515.1,112.1 518.8,110.9 522.6,110.0 527.1,109.2 532.0,108.7 537.2,108.3 541.5,108.2 546.8,108.3 552.0,108.7 556.9,109.2 561.4,110.0 565.2,110.9 568.9,112.1 571.3,113.3 572.2,113.9 572.5,114.4 572.2,114.9 571.3,115.5 568.9,116.7 565.2,117.9 561.4,118.8 556.9,119.6 552.0,120.1 546.8,120.5 542.5,120.6 537.2,120.5 532.0,120.1 527.1,119.6 522.6,118.8 518.8,117.9 515.1,116.7 512.7,115.5 511.8,114.9 511.5,114.4Z" fill="#e06022"/>
<path d="M511.0,114.4 511.3,113.9 511.8,113.4 513.8,112.5 516.8,111.5 520.1,110.8 524.0,110.2 528.2,109.8 532.8,109.5 537.5,109.4 542.3,109.5 546.9,109.7 551.2,110.1 555.9,110.8 559.2,111.5 562.2,112.5 564.2,113.4 564.7,113.9 565.0,114.4 564.7,114.9 564.2,115.4 562.2,116.3 559.2,117.3 555.9,118.0 552.0,118.6 547.8,119.0 543.2,119.3 538.5,119.4 533.7,119.3 529.1,119.1 524.8,118.7 520.1,118.0 516.8,117.3 513.8,116.3 511.8,115.4 511.3,114.9 511.0,114.4Z" fill="#d0182a"/>
<path d="M527.0,114.4 527.2,113.8 528.0,113.0 529.4,112.4 531.0,111.9 532.9,111.5 535.5,111.1 540.8,110.8 546.1,111.0 548.7,111.4 550.6,111.8 552.6,112.4 554.0,113.0 554.8,113.8 555.0,114.4 554.8,115.0 554.0,115.8 552.6,116.4 551.0,116.9 549.1,117.3 546.5,117.7 541.2,118.0 535.9,117.8 533.3,117.4 531.0,116.9 529.4,116.4 528.0,115.8 527.3,115.2 527.1,114.8 527.0,114.4Z" fill="#e57a22"/>
<path d="M527.5,114.4 527.7,113.8 528.5,113.2 529.6,112.7 531.4,112.2 533.2,111.8 535.7,111.5 540.8,111.2 545.9,111.4 550.3,112.1 551.9,112.5 553.3,113.1 554.2,113.7 554.5,114.4 554.3,115.0 553.5,115.6 552.4,116.1 550.6,116.6 548.8,117.0 546.3,117.3 541.2,117.6 536.1,117.4 531.7,116.7 530.1,116.3 528.7,115.7 527.8,115.1 527.5,114.4Z" fill="#eee21f"/>
<path d="M530.0,114.4 530.2,113.9 530.8,113.3 531.7,112.9 533.2,112.4 536.7,111.8 540.8,111.6 545.0,111.8 547.1,112.1 548.8,112.4 550.1,112.8 551.2,113.3 551.8,113.9 552.0,114.4 551.8,114.9 551.2,115.5 550.3,115.9 548.8,116.4 545.3,117.0 541.2,117.2 537.0,117.0 534.9,116.7 533.2,116.4 531.9,116.0 530.8,115.5 530.2,114.9 530.0,114.4Z" fill="#8cc34a"/>
<path d="M532.8,114.4 532.9,114.0 533.4,113.5 534.1,113.2 535.2,112.8 537.8,112.3 540.9,112.1 544.0,112.3 546.6,112.7 548.5,113.5 549.0,113.9 549.2,114.4 549.1,114.8 548.6,115.3 547.9,115.6 546.8,116.0 544.2,116.5 541.1,116.7 538.0,116.5 535.4,116.1 533.5,115.3 533.0,114.9 532.8,114.4Z" fill="#a8e0e8"/>
<path d="M535.0,114.4 535.1,114.1 535.4,113.9 536.7,113.5 538.6,113.2 540.9,113.1 543.2,113.2 545.1,113.5 546.5,113.9 546.9,114.1 547.0,114.4 546.9,114.6 546.6,114.9 545.3,115.3 543.4,115.6 541.1,115.7 538.8,115.6 536.9,115.3 535.5,114.9 535.1,114.7 535.0,114.4Z" fill="#1d3d96"/>
<path d="M686.0,114.4 687.4,113.6 689.8,112.8 693.3,111.9 697.0,111.2 701.2,110.6 704.8,110.2 709.6,109.9 713.5,109.8 717.5,109.9 722.3,110.1 726.0,110.5 730.2,111.0 734.0,111.7 737.7,112.6 740.6,113.6 742.0,114.4 740.6,115.2 738.2,116.0 734.7,116.9 731.0,117.6 726.8,118.2 723.2,118.6 718.4,118.9 714.5,119.0 710.5,118.9 705.7,118.7 702.0,118.3 697.8,117.8 694.0,117.1 690.3,116.2 687.4,115.2 686.0,114.4Z" fill="#4ab0c8"/>
<path d="M690.0,114.4 690.2,114.1 691.0,113.7 692.9,113.0 695.7,112.2 698.8,111.6 702.2,111.2 706.1,110.8 713.6,110.5 717.8,110.6 721.9,110.8 725.8,111.2 729.2,111.6 732.3,112.2 735.1,113.0 737.0,113.7 737.8,114.1 738.0,114.4 737.8,114.7 737.0,115.1 735.1,115.8 732.3,116.6 729.2,117.2 725.8,117.6 721.9,118.0 714.4,118.3 710.2,118.2 706.1,118.0 702.2,117.6 698.8,117.2 695.7,116.6 692.9,115.8 691.0,115.1 690.2,114.7 690.0,114.4Z" fill="#7cc060"/>
<path d="M695.0,114.4 695.1,114.2 695.4,113.9 696.7,113.3 698.7,112.8 700.9,112.4 707.1,111.7 713.7,111.5 720.3,111.7 726.6,112.3 729.3,112.8 731.3,113.3 732.6,113.9 732.9,114.2 733.0,114.4 732.9,114.6 732.6,114.9 731.3,115.5 729.3,116.0 727.1,116.4 720.9,117.1 714.3,117.3 707.7,117.1 701.4,116.5 698.7,116.0 696.7,115.5 695.4,114.9 695.1,114.6 695.0,114.4Z" fill="#c8d840"/>
</g>
<g fill="none" stroke="#13235e" stroke-width="3.4" opacity="0.35" filter="url(#bl)"><path d="M511.2,105.79 523.2,105.10 532.2,104.73 540.2,104.60 548.2,104.69 559.2,105.12 581.2,106.39 605.2,107.55 624.2,108.61 636.2,108.88 647.2,108.56 676.2,106.91 686.2,106.16 702.2,104.65"/><path d="M511.2,123.01 523.2,123.70 532.2,124.07 540.2,124.20 548.2,124.11 559.2,123.68 581.2,122.41 605.2,121.25 624.2,120.19 636.2,119.92 647.2,120.24 676.2,121.89 686.2,122.64 702.2,124.15"/><path d="M511.2,100.52 531.2,100.01 547.2,99.97 620.2,101.66 638.2,101.83 654.2,101.57 675.2,100.98 685.2,100.52 702.2,99.47"/><path d="M511.2,128.28 531.2,128.79 547.2,128.83 620.2,127.14 638.2,126.97 654.2,127.23 675.2,127.82 685.2,128.28 702.2,129.33"/><path d="M511.2,94.82 531.2,94.57 546.2,94.54 600.2,95.15 642.2,95.38 675.2,94.98 702.2,93.98"/><path d="M511.2,133.98 531.2,134.23 546.2,134.26 600.2,133.65 642.2,133.42 675.2,133.82 702.2,134.82"/><path d="M511.2,88.91 545.2,88.78 610.2,89.11 649.2,89.14 676.2,88.93 702.2,88.29"/><path d="M511.2,139.89 545.2,140.02 610.2,139.69 649.2,139.66 676.2,139.87 702.2,140.51"/><path d="M511.2,82.91 544.2,82.84 655.2,83.00 678.2,82.86 702.2,82.46"/><path d="M511.2,145.89 544.2,145.96 655.2,145.80 678.2,145.94 702.2,146.34"/><path d="M511.2,76.86 658.2,76.89 702.2,76.54"/><path d="M511.2,151.94 658.2,151.91 702.2,152.26"/><path d="M511.2,70.78 659.2,70.79 702.2,70.56"/><path d="M511.2,158.02 659.2,158.01 702.2,158.24"/><path d="M509.5,114.4 509.8,114.0 510.6,113.3 513.0,112.1 516.6,110.8 520.7,109.8 525.5,108.9 530.0,108.3 535.6,107.9 540.6,107.8 545.6,107.9 551.2,108.3 555.8,108.8 560.6,109.6 564.8,110.7 568.6,111.9 570.1,112.5 571.4,113.3 572.2,114.0 572.5,114.4 572.2,114.8 571.4,115.5 569.0,116.7 565.4,118.0 561.3,119.0 556.5,119.9 552.0,120.5 546.4,120.9 541.4,121.0 536.4,120.9 530.8,120.5 526.2,120.0 521.4,119.2 517.2,118.1 513.4,116.9 511.9,116.3 510.6,115.5 509.8,114.8 509.5,114.4Z"/><path d="M532.8,114.4 533.0,113.9 533.4,113.6 535.1,112.9 537.7,112.4 540.9,112.2 544.1,112.4 546.8,112.8 547.9,113.2 548.6,113.6 549.0,113.9 549.2,114.4 549.0,114.9 548.6,115.2 546.9,115.9 544.3,116.4 541.1,116.6 537.9,116.4 535.2,116.0 534.1,115.6 533.4,115.2 533.0,114.9 532.8,114.4Z"/><path d="M694.0,114.4 694.2,114.1 694.8,113.6 696.4,112.8 699.0,111.9 701.8,111.2 705.2,110.6 708.3,110.2 712.2,109.9 715.7,109.8 719.2,109.9 723.1,110.1 726.3,110.5 729.7,111.1 732.6,111.8 735.3,112.7 737.2,113.6 737.8,114.1 738.0,114.4 737.8,114.7 737.2,115.2 735.6,116.0 733.0,116.9 730.2,117.6 726.8,118.2 723.7,118.6 719.8,118.9 716.3,119.0 712.8,118.9 708.9,118.7 705.7,118.3 702.3,117.7 699.4,117.0 696.7,116.1 694.8,115.2 694.2,114.7 694.0,114.4Z"/></g>
<defs><linearGradient id="lg2_0" gradientUnits="userSpaceOnUse" x1="513.2" y1="0" x2="700.2" y2="0"><stop offset="0.00" stop-color="#eef4fd" stop-opacity="0.55"/><stop offset="0.08" stop-color="#eef4fd" stop-opacity="0.87"/><stop offset="0.51" stop-color="#eef4fd" stop-opacity="0.97"/><stop offset="0.69" stop-color="#eef4fd" stop-opacity="0.53"/><stop offset="0.74" stop-color="#eef4fd" stop-opacity="0.66"/><stop offset="0.77" stop-color="#eef4fd" stop-opacity="0.78"/><stop offset="1.00" stop-color="#eef4fd" stop-opacity="0.91"/></linearGradient><linearGradient id="lg2_1" gradientUnits="userSpaceOnUse" x1="513.2" y1="0" x2="700.2" y2="0"><stop offset="0.00" stop-color="#eef4fd" stop-opacity="0.97"/><stop offset="0.46" stop-color="#eef4fd" stop-opacity="0.63"/><stop offset="0.63" stop-color="#eef4fd" stop-opacity="0.80"/><stop offset="0.68" stop-color="#eef4fd" stop-opacity="0.97"/><stop offset="0.95" stop-color="#eef4fd" stop-opacity="0.78"/><stop offset="1.00" stop-color="#eef4fd" stop-opacity="0.98"/></linearGradient><linearGradient id="lg2_2" gradientUnits="userSpaceOnUse" x1="513.2" y1="0" x2="700.2" y2="0"><stop offset="0.00" stop-color="#eef4fd" stop-opacity="0.88"/><stop offset="0.19" stop-color="#eef4fd" stop-opacity="0.84"/><stop offset="0.42" stop-color="#eef4fd" stop-opacity="0.76"/><stop offset="0.50" stop-color="#eef4fd" stop-opacity="0.74"/><stop offset="0.67" stop-color="#eef4fd" stop-opacity="0.82"/><stop offset="0.72" stop-color="#eef4fd" stop-opacity="0.95"/><stop offset="0.93" stop-color="#eef4fd" stop-opacity="0.57"/><stop offset="1.00" stop-color="#eef4fd" stop-opacity="0.55"/></linearGradient><linearGradient id="lg2_3" gradientUnits="userSpaceOnUse" x1="513.2" y1="0" x2="700.2" y2="0"><stop offset="0.00" stop-color="#eef4fd" stop-opacity="0.60"/><stop offset="0.22" stop-color="#eef4fd" stop-opacity="0.79"/><stop offset="0.29" stop-color="#eef4fd" stop-opacity="0.66"/><stop offset="0.45" stop-color="#eef4fd" stop-opacity="0.62"/><stop offset="0.52" stop-color="#eef4fd" stop-opacity="0.85"/><stop offset="0.70" stop-color="#eef4fd" stop-opacity="0.98"/><stop offset="0.87" stop-color="#eef4fd" stop-opacity="0.65"/><stop offset="1.00" stop-color="#eef4fd" stop-opacity="0.85"/></linearGradient><linearGradient id="lg2_4" gradientUnits="userSpaceOnUse" x1="513.2" y1="0" x2="700.2" y2="0"><stop offset="0.00" stop-color="#eef4fd" stop-opacity="0.90"/><stop offset="0.29" stop-color="#eef4fd" stop-opacity="0.60"/><stop offset="0.33" stop-color="#eef4fd" stop-opacity="0.78"/><stop offset="0.58" stop-color="#eef4fd" stop-opacity="0.62"/><stop offset="0.59" stop-color="#eef4fd" stop-opacity="0.74"/><stop offset="0.85" stop-color="#eef4fd" stop-opacity="0.93"/><stop offset="0.94" stop-color="#eef4fd" stop-opacity="0.71"/><stop offset="1.00" stop-color="#eef4fd" stop-opacity="0.85"/></linearGradient><linearGradient id="lg2_5" gradientUnits="userSpaceOnUse" x1="513.2" y1="0" x2="700.2" y2="0"><stop offset="0.00" stop-color="#eef4fd" stop-opacity="0.74"/><stop offset="0.47" stop-color="#eef4fd" stop-opacity="0.86"/><stop offset="0.55" stop-color="#eef4fd" stop-opacity="0.93"/><stop offset="0.79" stop-color="#eef4fd" stop-opacity="0.70"/><stop offset="0.80" stop-color="#eef4fd" stop-opacity="0.87"/><stop offset="1.00" stop-color="#eef4fd" stop-opacity="0.98"/></linearGradient><linearGradient id="lg2_6" gradientUnits="userSpaceOnUse" x1="513.2" y1="0" x2="700.2" y2="0"><stop offset="0.00" stop-color="#eef4fd" stop-opacity="0.63"/><stop offset="0.11" stop-color="#eef4fd" stop-opacity="0.95"/><stop offset="0.25" stop-color="#eef4fd" stop-opacity="0.89"/><stop offset="0.63" stop-color="#eef4fd" stop-opacity="0.57"/><stop offset="0.75" stop-color="#eef4fd" stop-opacity="0.81"/><stop offset="0.85" stop-color="#eef4fd" stop-opacity="0.84"/><stop offset="0.87" stop-color="#eef4fd" stop-opacity="0.52"/><stop offset="1.00" stop-color="#eef4fd" stop-opacity="0.97"/></linearGradient><linearGradient id="lg2_7" gradientUnits="userSpaceOnUse" x1="513.2" y1="0" x2="700.2" y2="0"><stop offset="0.00" stop-color="#eef4fd" stop-opacity="0.54"/><stop offset="0.33" stop-color="#eef4fd" stop-opacity="0.55"/><stop offset="0.43" stop-color="#eef4fd" stop-opacity="0.92"/><stop offset="0.71" stop-color="#eef4fd" stop-opacity="0.65"/><stop offset="0.83" stop-color="#eef4fd" stop-opacity="0.68"/><stop offset="1.00" stop-color="#eef4fd" stop-opacity="0.79"/></linearGradient><linearGradient id="lg2_8" gradientUnits="userSpaceOnUse" x1="513.2" y1="0" x2="700.2" y2="0"><stop offset="0.00" stop-color="#eef4fd" stop-opacity="0.79"/><stop offset="0.06" stop-color="#eef4fd" stop-opacity="0.98"/><stop offset="0.24" stop-color="#eef4fd" stop-opacity="0.70"/><stop offset="0.35" stop-color="#eef4fd" stop-opacity="0.77"/><stop offset="0.44" stop-color="#eef4fd" stop-opacity="0.56"/><stop offset="0.49" stop-color="#eef4fd" stop-opacity="0.64"/><stop offset="1.00" stop-color="#eef4fd" stop-opacity="0.83"/></linearGradient><linearGradient id="lg2_9" gradientUnits="userSpaceOnUse" x1="513.2" y1="0" x2="700.2" y2="0"><stop offset="0.00" stop-color="#eef4fd" stop-opacity="0.76"/><stop offset="0.28" stop-color="#eef4fd" stop-opacity="0.85"/><stop offset="0.44" stop-color="#eef4fd" stop-opacity="0.84"/><stop offset="0.52" stop-color="#eef4fd" stop-opacity="0.68"/><stop offset="1.00" stop-color="#eef4fd" stop-opacity="0.73"/></linearGradient><linearGradient id="lg2_10" gradientUnits="userSpaceOnUse" x1="513.2" y1="0" x2="700.2" y2="0"><stop offset="0.00" stop-color="#eef4fd" stop-opacity="0.83"/><stop offset="0.15" stop-color="#eef4fd" stop-opacity="0.75"/><stop offset="0.35" stop-color="#eef4fd" stop-opacity="0.53"/><stop offset="0.52" stop-color="#eef4fd" stop-opacity="0.65"/><stop offset="0.56" stop-color="#eef4fd" stop-opacity="0.86"/><stop offset="0.90" stop-color="#eef4fd" stop-opacity="0.87"/><stop offset="1.00" stop-color="#eef4fd" stop-opacity="0.82"/></linearGradient><linearGradient id="lg2_11" gradientUnits="userSpaceOnUse" x1="513.2" y1="0" x2="700.2" y2="0"><stop offset="0.00" stop-color="#eef4fd" stop-opacity="0.97"/><stop offset="0.16" stop-color="#eef4fd" stop-opacity="0.57"/><stop offset="0.21" stop-color="#eef4fd" stop-opacity="0.67"/><stop offset="0.64" stop-color="#eef4fd" stop-opacity="0.86"/><stop offset="0.85" stop-color="#eef4fd" stop-opacity="0.80"/><stop offset="1.00" stop-color="#eef4fd" stop-opacity="0.78"/></linearGradient><linearGradient id="lg2_12" gradientUnits="userSpaceOnUse" x1="513.2" y1="0" x2="700.2" y2="0"><stop offset="0.00" stop-color="#eef4fd" stop-opacity="0.86"/><stop offset="0.11" stop-color="#eef4fd" stop-opacity="0.88"/><stop offset="0.21" stop-color="#eef4fd" stop-opacity="0.77"/><stop offset="0.33" stop-color="#eef4fd" stop-opacity="0.87"/><stop offset="0.46" stop-color="#eef4fd" stop-opacity="0.68"/><stop offset="1.00" stop-color="#eef4fd" stop-opacity="0.63"/></linearGradient><linearGradient id="lg2_13" gradientUnits="userSpaceOnUse" x1="513.2" y1="0" x2="700.2" y2="0"><stop offset="0.00" stop-color="#eef4fd" stop-opacity="0.94"/><stop offset="0.10" stop-color="#eef4fd" stop-opacity="0.97"/><stop offset="0.17" stop-color="#eef4fd" stop-opacity="0.72"/><stop offset="0.29" stop-color="#eef4fd" stop-opacity="0.90"/><stop offset="0.48" stop-color="#eef4fd" stop-opacity="0.53"/><stop offset="0.51" stop-color="#eef4fd" stop-opacity="0.75"/><stop offset="0.68" stop-color="#eef4fd" stop-opacity="1.00"/><stop offset="1.00" stop-color="#eef4fd" stop-opacity="0.58"/></linearGradient></defs>
<g fill="none" stroke-width="1.35" filter="url(#bl2)">
<path d="M511.2,105.79 523.2,105.10 532.2,104.73 540.2,104.60 548.2,104.69 559.2,105.12 581.2,106.39 605.2,107.55 624.2,108.61 636.2,108.88 647.2,108.56 676.2,106.91 686.2,106.16 702.2,104.65" stroke="url(#lg2_0)"/>
<path d="M511.2,123.01 523.2,123.70 532.2,124.07 540.2,124.20 548.2,124.11 559.2,123.68 581.2,122.41 605.2,121.25 624.2,120.19 636.2,119.92 647.2,120.24 676.2,121.89 686.2,122.64 702.2,124.15" stroke="url(#lg2_1)"/>
<path d="M511.2,100.52 531.2,100.01 547.2,99.97 620.2,101.66 638.2,101.83 654.2,101.57 675.2,100.98 685.2,100.52 702.2,99.47" stroke="url(#lg2_2)"/>
<path d="M511.2,128.28 531.2,128.79 547.2,128.83 620.2,127.14 638.2,126.97 654.2,127.23 675.2,127.82 685.2,128.28 702.2,129.33" stroke="url(#lg2_3)"/>
<path d="M511.2,94.82 531.2,94.57 546.2,94.54 600.2,95.15 642.2,95.38 675.2,94.98 702.2,93.98" stroke="url(#lg2_4)"/>
<path d="M511.2,133.98 531.2,134.23 546.2,134.26 600.2,133.65 642.2,133.42 675.2,133.82 702.2,134.82" stroke="url(#lg2_5)"/>
<path d="M511.2,88.91 545.2,88.78 610.2,89.11 649.2,89.14 676.2,88.93 702.2,88.29" stroke="url(#lg2_6)"/>
<path d="M511.2,139.89 545.2,140.02 610.2,139.69 649.2,139.66 676.2,139.87 702.2,140.51" stroke="url(#lg2_7)"/>
<path d="M511.2,82.91 544.2,82.84 655.2,83.00 678.2,82.86 702.2,82.46" stroke="url(#lg2_8)"/>
<path d="M511.2,145.89 544.2,145.96 655.2,145.80 678.2,145.94 702.2,146.34" stroke="url(#lg2_9)"/>
<path d="M511.2,76.86 658.2,76.89 702.2,76.54" stroke="url(#lg2_10)"/>
<path d="M511.2,151.94 658.2,151.91 702.2,152.26" stroke="url(#lg2_11)"/>
<path d="M511.2,70.78 659.2,70.79 702.2,70.56" stroke="url(#lg2_12)"/>
<path d="M511.2,158.02 659.2,158.01 702.2,158.24" stroke="url(#lg2_13)"/>
<path d="M509.5,114.4 509.8,114.0 510.6,113.3 513.0,112.1 516.6,110.8 520.7,109.8 525.5,108.9 530.0,108.3 535.6,107.9 540.6,107.8 545.6,107.9 551.2,108.3 555.8,108.8 560.6,109.6 564.8,110.7 568.6,111.9 570.1,112.5 571.4,113.3 572.2,114.0 572.5,114.4 572.2,114.8 571.4,115.5 569.0,116.7 565.4,118.0 561.3,119.0 556.5,119.9 552.0,120.5 546.4,120.9 541.4,121.0 536.4,120.9 530.8,120.5 526.2,120.0 521.4,119.2 517.2,118.1 513.4,116.9 511.9,116.3 510.6,115.5 509.8,114.8 509.5,114.4Z" stroke="#eef4fd" opacity="0.9"/>
<path d="M532.8,114.4 533.0,113.9 533.4,113.6 535.1,112.9 537.7,112.4 540.9,112.2 544.1,112.4 546.8,112.8 547.9,113.2 548.6,113.6 549.0,113.9 549.2,114.4 549.0,114.9 548.6,115.2 546.9,115.9 544.3,116.4 541.1,116.6 537.9,116.4 535.2,116.0 534.1,115.6 533.4,115.2 533.0,114.9 532.8,114.4Z" stroke="#eef4fd" opacity="0.8"/>
<path d="M694.0,114.4 694.2,114.1 694.8,113.6 696.4,112.8 699.0,111.9 701.8,111.2 705.2,110.6 708.3,110.2 712.2,109.9 715.7,109.8 719.2,109.9 723.1,110.1 726.3,110.5 729.7,111.1 732.6,111.8 735.3,112.7 737.2,113.6 737.8,114.1 738.0,114.4 737.8,114.7 737.2,115.2 735.6,116.0 733.0,116.9 730.2,117.6 726.8,118.2 723.7,118.6 719.8,118.9 716.3,119.0 712.8,118.9 708.9,118.7 705.7,118.3 702.3,117.7 699.4,117.0 696.7,116.1 694.8,115.2 694.2,114.7 694.0,114.4Z" stroke="#eef4fd" opacity="0.9"/>
</g>
</g>
<rect x="513.2" y="67.90" width="187.00" height="1.6" fill="#a6b8e0"/>
<rect x="513.2" y="159.10" width="187.00" height="1.6" fill="#a6b8e0"/>
<rect x="513.2" y="67.10" width="187.00" height="0.9" fill="#262a3a"/>
<rect x="513.2" y="160.60" width="187.00" height="0.9" fill="#262a3a"/>
<rect x="513.20" y="67.10" width="1" height="94.40" fill="#1c2236"/>
<rect x="699.20" y="67.10" width="1" height="94.40" fill="#1c2236"/>
<path d="M538.13,67.10v3M538.13,161.50v-3M563.07,67.10v3M563.07,161.50v-3M588.00,67.10v3M588.00,161.50v-3M612.93,67.10v3M612.93,161.50v-3M637.87,67.10v3M637.87,161.50v-3M662.80,67.10v3M662.80,161.50v-3M687.73,67.10v3M687.73,161.50v-3" stroke="#20242e" stroke-width="1" fill="none"/>
<path d="M519.43,67.10v2M519.43,161.50v-2M525.67,67.10v2M525.67,161.50v-2M531.90,67.10v2M531.90,161.50v-2M544.37,67.10v2M544.37,161.50v-2M550.60,67.10v2M550.60,161.50v-2M556.83,67.10v2M556.83,161.50v-2M569.30,67.10v2M569.30,161.50v-2M575.53,67.10v2M575.53,161.50v-2M581.77,67.10v2M581.77,161.50v-2M594.23,67.10v2M594.23,161.50v-2M600.47,67.10v2M600.47,161.50v-2M606.70,67.10v2M606.70,161.50v-2M619.17,67.10v2M619.17,161.50v-2M625.40,67.10v2M625.40,161.50v-2M631.63,67.10v2M631.63,161.50v-2M644.10,67.10v2M644.10,161.50v-2M650.33,67.10v2M650.33,161.50v-2M656.57,67.10v2M656.57,161.50v-2M669.03,67.10v2M669.03,161.50v-2M675.27,67.10v2M675.27,161.50v-2M681.50,67.10v2M681.50,161.50v-2M693.97,67.10v2M693.97,161.50v-2" stroke="#20242e" stroke-width="0.8" fill="none" opacity="0.3"/>
<clipPath id="cp3"><rect x="46.1" y="256.1" width="187.60" height="109.60"/></clipPath>
<g clip-path="url(#cp3)">
<rect x="46.1" y="256.1" width="187.60" height="109.60" fill="#1e2a80"/>
<ellipse cx="100" cy="310.85" rx="45" ry="7" fill="#0c1448" opacity="0.4" filter="url(#g2)"/>
<ellipse cx="72" cy="303.85" rx="28" ry="2.5" fill="#070c34" opacity="0.8" filter="url(#g1)"/>
<ellipse cx="72" cy="317.85" rx="28" ry="2.5" fill="#070c34" opacity="0.8" filter="url(#g1)"/>
<g filter="url(#bl)">
<path d="M154.0,310.9 154.5,310.3 155.8,309.4 157.4,308.7 159.5,308.0 165.0,306.5 170.8,305.3 177.5,304.4 184.9,303.6 192.7,303.2 199.2,303.1 207.3,303.2 215.1,303.6 222.5,304.4 229.2,305.3 235.0,306.5 240.5,308.0 242.6,308.7 244.2,309.4 245.5,310.3 246.0,310.9 245.5,311.4 244.2,312.3 242.6,313.0 240.5,313.7 235.0,315.2 229.2,316.4 222.5,317.3 215.1,318.1 207.3,318.5 200.8,318.6 192.7,318.5 184.9,318.1 177.5,317.3 170.8,316.4 165.0,315.2 159.5,313.7 157.4,313.0 155.8,312.3 154.5,311.4 154.0,310.9Z" fill="#3aa0d4"/>
<path d="M158.0,310.9 158.4,310.2 159.2,309.6 160.3,309.0 161.9,308.3 166.2,307.0 170.8,306.0 176.2,305.1 182.2,304.4 188.7,304.0 195.3,303.9 202.0,304.0 208.5,304.3 214.6,305.0 220.1,305.8 224.9,306.8 229.5,308.1 231.2,308.8 232.5,309.4 233.6,310.2 234.0,310.9 233.6,311.5 232.8,312.1 231.7,312.7 230.1,313.4 225.8,314.7 221.2,315.7 215.8,316.6 209.8,317.3 203.3,317.7 196.7,317.8 190.0,317.7 183.5,317.4 177.4,316.7 171.9,315.9 167.1,314.9 162.5,313.6 160.8,312.9 159.5,312.3 158.4,311.5 158.0,310.9Z" fill="#55bec8"/>
<path d="M159.0,310.9 159.3,310.2 160.0,309.6 161.0,309.0 162.4,308.3 166.1,307.1 170.2,306.1 174.8,305.4 180.0,304.8 185.6,304.4 191.4,304.3 197.2,304.3 202.9,304.7 208.2,305.2 213.8,306.1 217.9,307.1 221.6,308.3 223.0,309.0 224.0,309.6 224.7,310.2 225.0,310.9 224.7,311.5 224.0,312.1 223.0,312.7 221.6,313.4 217.9,314.6 213.8,315.6 209.2,316.3 204.0,316.9 198.4,317.3 192.6,317.4 186.8,317.4 181.1,317.0 175.8,316.5 170.2,315.6 166.1,314.6 162.4,313.4 161.0,312.7 160.0,312.1 159.3,311.5 159.0,310.9Z" fill="#a9c63b"/>
<path d="M163.0,310.9 163.2,310.3 163.6,309.7 165.0,308.7 167.7,307.6 170.7,306.7 175.1,305.9 179.3,305.4 184.8,305.0 189.5,304.9 194.3,304.9 199.8,305.3 204.0,305.8 208.6,306.6 211.7,307.4 214.6,308.5 215.6,309.1 216.4,309.7 216.8,310.3 217.0,310.9 216.8,311.4 216.4,312.0 215.0,313.0 212.3,314.1 209.3,315.0 204.9,315.8 200.7,316.3 195.2,316.7 190.5,316.8 185.7,316.8 180.2,316.4 176.0,315.9 171.4,315.1 168.3,314.3 165.4,313.2 164.4,312.6 163.6,312.0 163.2,311.4 163.0,310.9Z" fill="#eee21f"/>
<path d="M172.0,310.9 172.1,310.5 172.3,310.0 172.9,309.6 173.6,309.1 175.8,308.3 178.3,307.6 181.3,307.1 185.3,306.6 189.8,306.3 193.6,306.3 197.5,306.3 202.0,306.6 205.4,306.9 209.1,307.5 211.7,308.1 214.1,309.0 215.5,309.9 215.9,310.4 216.0,310.9 215.9,311.2 215.7,311.7 215.1,312.1 214.4,312.6 212.6,313.3 209.7,314.1 206.7,314.6 202.7,315.1 199.0,315.3 194.4,315.4 190.5,315.4 186.0,315.1 182.6,314.8 178.9,314.2 176.3,313.6 173.9,312.7 172.5,311.8 172.1,311.3 172.0,310.9Z" fill="#d2da2c"/>
<path d="M175.5,310.9 175.6,310.4 175.9,310.0 176.9,309.3 178.4,308.7 180.8,308.0 183.3,307.6 186.7,307.2 189.8,307.0 193.7,306.9 196.9,306.9 200.7,307.1 204.2,307.5 207.2,308.0 209.3,308.6 211.1,309.3 212.1,310.0 212.4,310.4 212.5,310.9 212.2,311.6 211.1,312.4 209.6,313.0 207.2,313.7 204.7,314.1 201.3,314.5 198.2,314.7 194.3,314.8 191.1,314.8 187.3,314.6 183.8,314.2 181.3,313.8 178.7,313.1 177.1,312.5 175.9,311.7 175.6,311.3 175.5,310.9Z" fill="#8cc44a"/>
<path d="M180.0,310.9 180.1,310.5 180.3,310.2 181.0,309.6 182.4,309.0 184.0,308.5 185.9,308.2 188.5,307.8 193.8,307.6 199.1,307.8 201.7,308.1 204.0,308.5 205.6,309.0 207.0,309.6 207.7,310.2 207.9,310.5 208.0,310.9 207.8,311.4 207.0,312.1 205.6,312.7 204.0,313.2 202.1,313.5 199.5,313.9 194.2,314.1 188.9,313.9 186.3,313.6 184.4,313.2 182.4,312.7 181.0,312.1 180.3,311.5 180.1,311.2 180.0,310.9Z" fill="#55bec8"/>
<path d="M184.7,310.9 184.9,310.3 185.4,309.9 186.3,309.5 187.3,309.2 190.1,308.6 193.5,308.5 197.3,308.6 200.1,309.2 201.1,309.5 202.0,309.9 202.5,310.3 202.7,310.9 202.5,311.4 202.0,311.8 201.3,312.1 200.1,312.5 197.3,313.1 193.9,313.2 190.4,313.1 187.5,312.6 186.5,312.3 185.5,311.8 184.9,311.4 184.7,310.9Z" fill="#2445a0"/>
<path d="M-40.0,310.9 -39.5,310.4 -38.1,309.6 -35.8,308.6 -33.4,307.8 -27.4,306.3 -21.2,305.1 -14.0,304.1 -7.8,303.5 0.4,303.0 7.2,302.9 13.9,302.9 22.2,303.4 30.0,304.1 37.2,305.1 43.4,306.3 49.4,307.8 51.8,308.6 54.1,309.6 55.5,310.4 56.0,310.9 55.5,311.3 54.1,312.1 51.8,313.1 49.4,313.9 43.4,315.4 37.2,316.6 30.0,317.6 23.8,318.2 15.6,318.7 8.8,318.8 2.1,318.8 -6.2,318.3 -14.0,317.6 -21.2,316.6 -27.4,315.4 -33.4,313.9 -35.8,313.1 -38.1,312.1 -39.5,311.3 -40.0,310.9Z" fill="#3aa0d4"/>
<path d="M-35.0,310.9 -34.6,310.4 -33.3,309.7 -29.9,308.4 -24.7,307.2 -19.3,306.2 -13.1,305.4 -6.2,304.8 1.2,304.5 7.2,304.4 14.8,304.5 22.2,304.8 29.1,305.4 35.3,306.2 40.7,307.2 45.9,308.4 49.3,309.7 50.6,310.4 51.0,310.9 50.6,311.3 49.3,312.0 45.9,313.3 40.7,314.5 35.3,315.5 29.1,316.3 22.2,316.9 14.8,317.2 8.8,317.3 1.2,317.2 -6.2,316.9 -13.1,316.3 -19.3,315.5 -24.7,314.5 -29.9,313.3 -33.3,312.0 -34.6,311.3 -35.0,310.9Z" fill="#55bec8"/>
</g>
<g fill="none" stroke="#13235e" stroke-width="3.4" opacity="0.35" filter="url(#bl)"><path d="M44.1,298.52 55.1,298.74 64.1,299.18 72.1,299.86 90.1,301.80 95.1,302.14 100.1,302.25 105.1,302.13 110.1,301.79 127.1,299.94 134.1,299.31 147.1,298.67 166.1,298.46 235.1,298.45"/><path d="M44.1,292.97 64.1,293.14 90.1,293.80 100.1,293.91 110.1,293.79 134.1,293.17 147.1,293.01 235.1,292.95"/><path d="M44.1,286.45 100.1,286.64 147.1,286.46 235.1,286.45"/><path d="M44.1,279.65 235.1,279.65"/><path d="M44.1,272.85 235.1,272.85"/><path d="M44.1,265.95 235.1,265.95"/><path d="M44.1,259.00 235.1,259.00"/><path d="M44.1,323.18 55.1,322.96 64.1,322.52 72.1,321.84 90.1,319.90 95.1,319.56 100.1,319.45 105.1,319.57 110.1,319.91 127.1,321.76 134.1,322.39 147.1,323.03 166.1,323.24 235.1,323.25"/><path d="M44.1,328.63 64.1,328.46 90.1,327.78 100.1,327.66 110.1,327.79 134.1,328.43 147.1,328.59 235.1,328.65"/><path d="M44.1,335.45 100.1,335.27 147.1,335.44 235.1,335.45"/><path d="M44.1,342.65 235.1,342.65"/><path d="M44.1,349.35 235.1,349.35"/><path d="M44.1,356.05 235.1,356.05"/><path d="M44.1,362.95 235.1,362.95"/><path d="M144.4,310.9 144.8,310.2 146.1,309.3 147.7,308.4 149.9,307.5 152.5,306.6 155.6,305.7 162.0,304.2 169.5,303.0 176.6,302.1 185.4,301.5 193.1,301.4 200.9,301.5 209.8,302.0 217.0,302.8 224.6,304.0 231.2,305.5 234.4,306.4 237.1,307.3 239.4,308.2 241.5,309.3 242.8,310.2 243.2,310.9 242.8,311.5 241.5,312.4 239.9,313.3 237.7,314.2 235.1,315.1 232.0,316.0 225.6,317.5 218.1,318.7 211.0,319.6 202.2,320.2 194.5,320.3 186.7,320.2 177.8,319.7 170.6,318.9 163.0,317.7 156.4,316.2 153.2,315.3 150.5,314.4 148.2,313.5 146.1,312.4 144.8,311.5 144.4,310.9Z"/><path d="M171.0,310.9 171.1,310.5 171.4,309.9 172.6,309.1 174.8,308.2 177.4,307.5 180.6,306.9 184.8,306.4 188.9,306.1 193.7,306.0 197.9,306.0 202.6,306.3 206.4,306.7 210.2,307.4 212.9,308.1 215.2,309.0 216.5,309.8 216.9,310.3 217.0,310.9 216.9,311.2 216.6,311.8 215.4,312.6 213.2,313.5 210.6,314.2 207.4,314.8 203.2,315.3 199.1,315.6 194.3,315.7 189.5,315.7 185.4,315.4 181.6,315.0 177.8,314.3 174.8,313.5 172.8,312.7 172.0,312.3 171.4,311.8 171.1,311.2 171.0,310.9Z"/><path d="M-43.0,310.9 -42.6,310.2 -41.2,309.3 -39.6,308.4 -37.3,307.5 -34.6,306.6 -31.5,305.7 -24.8,304.2 -17.1,303.0 -9.8,302.1 -0.7,301.5 7.3,301.4 15.4,301.5 24.5,302.0 31.9,302.8 39.8,304.0 46.6,305.5 49.9,306.4 52.7,307.3 55.1,308.2 57.2,309.3 58.6,310.2 59.0,310.9 58.6,311.5 57.2,312.4 55.6,313.3 53.3,314.2 50.6,315.1 47.5,316.0 40.8,317.5 33.1,318.7 25.8,319.6 16.7,320.2 8.7,320.3 0.6,320.2 -8.5,319.7 -15.9,318.9 -23.8,317.7 -30.6,316.2 -33.9,315.3 -36.7,314.4 -39.1,313.5 -41.2,312.4 -42.6,311.5 -43.0,310.9Z"/></g>
<defs><linearGradient id="lg3_0" gradientUnits="userSpaceOnUse" x1="46.1" y1="0" x2="233.7" y2="0"><stop offset="0.00" stop-color="#eef4fd" stop-opacity="0.56"/><stop offset="0.56" stop-color="#eef4fd" stop-opacity="0.85"/><stop offset="0.66" stop-color="#eef4fd" stop-opacity="0.78"/><stop offset="0.87" stop-color="#eef4fd" stop-opacity="0.84"/><stop offset="1.00" stop-color="#eef4fd" stop-opacity="0.70"/></linearGradient><linearGradient id="lg3_1" gradientUnits="userSpaceOnUse" x1="46.1" y1="0" x2="233.7" y2="0"><stop offset="0.00" stop-color="#eef4fd" stop-opacity="0.76"/><stop offset="0.18" stop-color="#eef4fd" stop-opacity="0.78"/><stop offset="0.22" stop-color="#eef4fd" stop-opacity="0.60"/><stop offset="0.41" stop-color="#eef4fd" stop-opacity="0.63"/><stop offset="0.58" stop-color="#eef4fd" stop-opacity="0.89"/><stop offset="1.00" stop-color="#eef4fd" stop-opacity="0.52"/></linearGradient><linearGradient id="lg3_2" gradientUnits="userSpaceOnUse" x1="46.1" y1="0" x2="233.7" y2="0"><stop offset="0.00" stop-color="#eef4fd" stop-opacity="0.99"/><stop offset="0.39" stop-color="#eef4fd" stop-opacity="0.84"/><stop offset="0.55" stop-color="#eef4fd" stop-opacity="0.65"/><stop offset="0.57" stop-color="#eef4fd" stop-opacity="0.93"/><stop offset="0.62" stop-color="#eef4fd" stop-opacity="0.74"/><stop offset="0.85" stop-color="#eef4fd" stop-opacity="0.80"/><stop offset="0.90" stop-color="#eef4fd" stop-opacity="0.86"/><stop offset="1.00" stop-color="#eef4fd" stop-opacity="0.50"/></linearGradient><linearGradient id="lg3_3" gradientUnits="userSpaceOnUse" x1="46.1" y1="0" x2="233.7" y2="0"><stop offset="0.00" stop-color="#eef4fd" stop-opacity="0.76"/><stop offset="0.22" stop-color="#eef4fd" stop-opacity="0.52"/><stop offset="0.46" stop-color="#eef4fd" stop-opacity="0.75"/><stop offset="0.49" stop-color="#eef4fd" stop-opacity="0.82"/><stop offset="0.52" stop-color="#eef4fd" stop-opacity="0.72"/><stop offset="1.00" stop-color="#eef4fd" stop-opacity="0.78"/></linearGradient><linearGradient id="lg3_4" gradientUnits="userSpaceOnUse" x1="46.1" y1="0" x2="233.7" y2="0"><stop offset="0.00" stop-color="#eef4fd" stop-opacity="0.68"/><stop offset="0.10" stop-color="#eef4fd" stop-opacity="0.62"/><stop offset="0.17" stop-color="#eef4fd" stop-opacity="0.54"/><stop offset="0.61" stop-color="#eef4fd" stop-opacity="0.77"/><stop offset="0.76" stop-color="#eef4fd" stop-opacity="0.96"/><stop offset="1.00" stop-color="#eef4fd" stop-opacity="0.66"/></linearGradient><linearGradient id="lg3_5" gradientUnits="userSpaceOnUse" x1="46.1" y1="0" x2="233.7" y2="0"><stop offset="0.00" stop-color="#eef4fd" stop-opacity="0.86"/><stop offset="0.17" stop-color="#eef4fd" stop-opacity="0.87"/><stop offset="0.59" stop-color="#eef4fd" stop-opacity="0.67"/><stop offset="0.68" stop-color="#eef4fd" stop-opacity="0.90"/><stop offset="0.82" stop-color="#eef4fd" stop-opacity="0.97"/><stop offset="0.88" stop-color="#eef4fd" stop-opacity="0.93"/><stop offset="1.00" stop-color="#eef4fd" stop-opacity="0.72"/></linearGradient><linearGradient id="lg3_6" gradientUnits="userSpaceOnUse" x1="46.1" y1="0" x2="233.7" y2="0"><stop offset="0.00" stop-color="#eef4fd" stop-opacity="0.60"/><stop offset="0.09" stop-color="#eef4fd" stop-opacity="0.58"/><stop offset="0.12" stop-color="#eef4fd" stop-opacity="0.75"/><stop offset="0.15" stop-color="#eef4fd" stop-opacity="0.85"/><stop offset="0.49" stop-color="#eef4fd" stop-opacity="0.77"/><stop offset="1.00" stop-color="#eef4fd" stop-opacity="0.71"/></linearGradient><linearGradient id="lg3_7" gradientUnits="userSpaceOnUse" x1="46.1" y1="0" x2="233.7" y2="0"><stop offset="0.00" stop-color="#eef4fd" stop-opacity="0.86"/><stop offset="0.21" stop-color="#eef4fd" stop-opacity="0.68"/><stop offset="0.32" stop-color="#eef4fd" stop-opacity="0.69"/><stop offset="0.41" stop-color="#eef4fd" stop-opacity="0.76"/><stop offset="0.47" stop-color="#eef4fd" stop-opacity="0.80"/><stop offset="0.73" stop-color="#eef4fd" stop-opacity="0.61"/><stop offset="0.86" stop-color="#eef4fd" stop-opacity="0.50"/><stop offset="1.00" stop-color="#eef4fd" stop-opacity="0.60"/></linearGradient><linearGradient id="lg3_8" gradientUnits="userSpaceOnUse" x1="46.1" y1="0" x2="233.7" y2="0"><stop offset="0.00" stop-color="#eef4fd" stop-opacity="0.70"/><stop offset="0.18" stop-color="#eef4fd" stop-opacity="0.58"/><stop offset="0.20" stop-color="#eef4fd" stop-opacity="0.51"/><stop offset="0.23" stop-color="#eef4fd" stop-opacity="0.56"/><stop offset="0.24" stop-color="#eef4fd" stop-opacity="0.58"/><stop offset="0.46" stop-color="#eef4fd" stop-opacity="0.75"/><stop offset="1.00" stop-color="#eef4fd" stop-opacity="0.53"/></linearGradient><linearGradient id="lg3_9" gradientUnits="userSpaceOnUse" x1="46.1" y1="0" x2="233.7" y2="0"><stop offset="0.00" stop-color="#eef4fd" stop-opacity="0.86"/><stop offset="0.08" stop-color="#eef4fd" stop-opacity="0.62"/><stop offset="0.34" stop-color="#eef4fd" stop-opacity="0.52"/><stop offset="0.41" stop-color="#eef4fd" stop-opacity="0.75"/><stop offset="1.00" stop-color="#eef4fd" stop-opacity="0.95"/></linearGradient><linearGradient id="lg3_10" gradientUnits="userSpaceOnUse" x1="46.1" y1="0" x2="233.7" y2="0"><stop offset="0.00" stop-color="#eef4fd" stop-opacity="0.56"/><stop offset="0.22" stop-color="#eef4fd" stop-opacity="0.96"/><stop offset="0.27" stop-color="#eef4fd" stop-opacity="0.80"/><stop offset="0.35" stop-color="#eef4fd" stop-opacity="0.90"/><stop offset="0.40" stop-color="#eef4fd" stop-opacity="0.65"/><stop offset="1.00" stop-color="#eef4fd" stop-opacity="0.99"/></linearGradient><linearGradient id="lg3_11" gradientUnits="userSpaceOnUse" x1="46.1" y1="0" x2="233.7" y2="0"><stop offset="0.00" stop-color="#eef4fd" stop-opacity="1.00"/><stop offset="0.08" stop-color="#eef4fd" stop-opacity="0.66"/><stop offset="0.35" stop-color="#eef4fd" stop-opacity="0.53"/><stop offset="0.49" stop-color="#eef4fd" stop-opacity="0.72"/><stop offset="0.56" stop-color="#eef4fd" stop-opacity="0.54"/><stop offset="0.76" stop-color="#eef4fd" stop-opacity="0.81"/><stop offset="0.92" stop-color="#eef4fd" stop-opacity="0.55"/><stop offset="1.00" stop-color="#eef4fd" stop-opacity="0.84"/></linearGradient><linearGradient id="lg3_12" gradientUnits="userSpaceOnUse" x1="46.1" y1="0" x2="233.7" y2="0"><stop offset="0.00" stop-color="#eef4fd" stop-opacity="0.83"/><stop offset="0.08" stop-color="#eef4fd" stop-opacity="0.95"/><stop offset="0.10" stop-color="#eef4fd" stop-opacity="0.60"/><stop offset="0.20" stop-color="#eef4fd" stop-opacity="0.99"/><stop offset="1.00" stop-color="#eef4fd" stop-opacity="0.74"/></linearGradient><linearGradient id="lg3_13" gradientUnits="userSpaceOnUse" x1="46.1" y1="0" x2="233.7" y2="0"><stop offset="0.00" stop-color="#eef4fd" stop-opacity="0.54"/><stop offset="0.08" stop-color="#eef4fd" stop-opacity="0.65"/><stop offset="0.32" stop-color="#eef4fd" stop-opacity="0.92"/><stop offset="0.60" stop-color="#eef4fd" stop-opacity="0.56"/><stop offset="0.88" stop-color="#eef4fd" stop-opacity="0.69"/><stop offset="0.90" stop-color="#eef4fd" stop-opacity="0.67"/><stop offset="0.90" stop-color="#eef4fd" stop-opacity="0.84"/><stop offset="1.00" stop-color="#eef4fd" stop-opacity="0.96"/></linearGradient></defs>
<g fill="none" stroke-width="1.35" filter="url(#bl2)">
<path d="M44.1,298.52 55.1,298.74 64.1,299.18 72.1,299.86 90.1,301.80 95.1,302.14 100.1,302.25 105.1,302.13 110.1,301.79 127.1,299.94 134.1,299.31 147.1,298.67 166.1,298.46 235.1,298.45" stroke="url(#lg3_0)"/>
<path d="M44.1,292.97 64.1,293.14 90.1,293.80 100.1,293.91 110.1,293.79 134.1,293.17 147.1,293.01 235.1,292.95" stroke="url(#lg3_1)"/>
<path d="M44.1,286.45 100.1,286.64 147.1,286.46 235.1,286.45" stroke="url(#lg3_2)"/>
<path d="M44.1,279.65 235.1,279.65" stroke="url(#lg3_3)"/>
<path d="M44.1,272.85 235.1,272.85" stroke="url(#lg3_4)"/>
<path d="M44.1,265.95 235.1,265.95" stroke="url(#lg3_5)"/>
<path d="M44.1,259.00 235.1,259.00" stroke="url(#lg3_6)"/>
<path d="M44.1,323.18 55.1,322.96 64.1,322.52 72.1,321.84 90.1,319.90 95.1,319.56 100.1,319.45 105.1,319.57 110.1,319.91 127.1,321.76 134.1,322.39 147.1,323.03 166.1,323.24 235.1,323.25" stroke="url(#lg3_7)"/>
<path d="M44.1,328.63 64.1,328.46 90.1,327.78 100.1,327.66 110.1,327.79 134.1,328.43 147.1,328.59 235.1,328.65" stroke="url(#lg3_8)"/>
<path d="M44.1,335.45 100.1,335.27 147.1,335.44 235.1,335.45" stroke="url(#lg3_9)"/>
<path d="M44.1,342.65 235.1,342.65" stroke="url(#lg3_10)"/>
<path d="M44.1,349.35 235.1,349.35" stroke="url(#lg3_11)"/>
<path d="M44.1,356.05 235.1,356.05" stroke="url(#lg3_12)"/>
<path d="M44.1,362.95 235.1,362.95" stroke="url(#lg3_13)"/>
<path d="M144.4,310.9 144.8,310.2 146.1,309.3 147.7,308.4 149.9,307.5 152.5,306.6 155.6,305.7 162.0,304.2 169.5,303.0 176.6,302.1 185.4,301.5 193.1,301.4 200.9,301.5 209.8,302.0 217.0,302.8 224.6,304.0 231.2,305.5 234.4,306.4 237.1,307.3 239.4,308.2 241.5,309.3 242.8,310.2 243.2,310.9 242.8,311.5 241.5,312.4 239.9,313.3 237.7,314.2 235.1,315.1 232.0,316.0 225.6,317.5 218.1,318.7 211.0,319.6 202.2,320.2 194.5,320.3 186.7,320.2 177.8,319.7 170.6,318.9 163.0,317.7 156.4,316.2 153.2,315.3 150.5,314.4 148.2,313.5 146.1,312.4 144.8,311.5 144.4,310.9Z" stroke="#eef4fd" opacity="0.95"/>
<path d="M171.0,310.9 171.1,310.5 171.4,309.9 172.6,309.1 174.8,308.2 177.4,307.5 180.6,306.9 184.8,306.4 188.9,306.1 193.7,306.0 197.9,306.0 202.6,306.3 206.4,306.7 210.2,307.4 212.9,308.1 215.2,309.0 216.5,309.8 216.9,310.3 217.0,310.9 216.9,311.2 216.6,311.8 215.4,312.6 213.2,313.5 210.6,314.2 207.4,314.8 203.2,315.3 199.1,315.6 194.3,315.7 189.5,315.7 185.4,315.4 181.6,315.0 177.8,314.3 174.8,313.5 172.8,312.7 172.0,312.3 171.4,311.8 171.1,311.2 171.0,310.9Z" stroke="#eef4fd" opacity="0.95"/>
<path d="M-43.0,310.9 -42.6,310.2 -41.2,309.3 -39.6,308.4 -37.3,307.5 -34.6,306.6 -31.5,305.7 -24.8,304.2 -17.1,303.0 -9.8,302.1 -0.7,301.5 7.3,301.4 15.4,301.5 24.5,302.0 31.9,302.8 39.8,304.0 46.6,305.5 49.9,306.4 52.7,307.3 55.1,308.2 57.2,309.3 58.6,310.2 59.0,310.9 58.6,311.5 57.2,312.4 55.6,313.3 53.3,314.2 50.6,315.1 47.5,316.0 40.8,317.5 33.1,318.7 25.8,319.6 16.7,320.2 8.7,320.3 0.6,320.2 -8.5,319.7 -15.9,318.9 -23.8,317.7 -30.6,316.2 -33.9,315.3 -36.7,314.4 -39.1,313.5 -41.2,312.4 -42.6,311.5 -43.0,310.9Z" stroke="#eef4fd" opacity="0.95"/>
</g>
</g>
<rect x="46.1" y="256.90" width="187.60" height="1.6" fill="#7f88c0"/>
<rect x="46.1" y="363.30" width="187.60" height="1.6" fill="#7f88c0"/>
<rect x="46.1" y="256.10" width="187.60" height="0.9" fill="#262a3a"/>
<rect x="46.1" y="364.80" width="187.60" height="0.9" fill="#262a3a"/>
<rect x="46.10" y="256.10" width="1" height="109.60" fill="#1c2236"/>
<rect x="232.70" y="256.10" width="1" height="109.60" fill="#1c2236"/>
<path d="M71.11,256.10v3M71.11,365.70v-3M96.13,256.10v3M96.13,365.70v-3M121.14,256.10v3M121.14,365.70v-3M146.15,256.10v3M146.15,365.70v-3M171.17,256.10v3M171.17,365.70v-3M196.18,256.10v3M196.18,365.70v-3M221.19,256.10v3M221.19,365.70v-3" stroke="#20242e" stroke-width="1" fill="none"/>
<path d="M52.35,256.10v2M52.35,365.70v-2M58.61,256.10v2M58.61,365.70v-2M64.86,256.10v2M64.86,365.70v-2M77.37,256.10v2M77.37,365.70v-2M83.62,256.10v2M83.62,365.70v-2M89.87,256.10v2M89.87,365.70v-2M102.38,256.10v2M102.38,365.70v-2M108.63,256.10v2M108.63,365.70v-2M114.89,256.10v2M114.89,365.70v-2M127.39,256.10v2M127.39,365.70v-2M133.65,256.10v2M133.65,365.70v-2M139.90,256.10v2M139.90,365.70v-2M152.41,256.10v2M152.41,365.70v-2M158.66,256.10v2M158.66,365.70v-2M164.91,256.10v2M164.91,365.70v-2M177.42,256.10v2M177.42,365.70v-2M183.67,256.10v2M183.67,365.70v-2M189.93,256.10v2M189.93,365.70v-2M202.43,256.10v2M202.43,365.70v-2M208.69,256.10v2M208.69,365.70v-2M214.94,256.10v2M214.94,365.70v-2M227.45,256.10v2M227.45,365.70v-2" stroke="#20242e" stroke-width="0.8" fill="none" opacity="0.3"/>
<clipPath id="cp4"><rect x="280.2" y="248.0" width="186.30" height="125.70"/></clipPath>
<g clip-path="url(#cp4)">
<rect x="280.2" y="248.0" width="186.30" height="125.70" fill="#1c2678"/>
<ellipse cx="292" cy="311.00" rx="22" ry="5" fill="#0c1448" opacity="0.6" filter="url(#g2)"/>
<ellipse cx="466" cy="311.00" rx="15" ry="5" fill="#0c1448" opacity="0.6" filter="url(#g2)"/>
<g filter="url(#bl)">
<path d="M329.6,311.0 329.8,310.7 330.2,310.2 331.5,309.4 333.4,308.5 336.0,307.6 339.2,306.7 343.0,305.8 350.5,304.4 359.3,303.2 369.1,302.3 379.6,301.7 390.5,301.5 401.4,301.6 412.0,302.2 422.0,303.0 431.0,304.1 438.8,305.5 442.8,306.3 446.2,307.3 449.0,308.2 451.1,309.1 453.0,310.2 453.4,310.7 453.6,311.0 453.4,311.3 453.0,311.8 451.7,312.6 449.8,313.5 447.2,314.4 444.0,315.3 440.2,316.2 432.7,317.6 423.9,318.8 414.1,319.7 403.6,320.3 392.7,320.5 381.8,320.4 371.2,319.8 361.2,319.0 352.2,317.9 344.4,316.5 340.4,315.7 337.0,314.7 334.2,313.8 332.1,312.9 330.2,311.8 329.8,311.3 329.6,311.0Z" fill="#1c2a7e"/>
<path d="M349.6,311.0 349.8,310.5 350.5,309.8 351.7,309.2 353.3,308.5 357.8,307.3 362.7,306.4 369.7,305.5 376.4,304.9 383.5,304.5 390.9,304.4 398.2,304.5 405.4,304.8 412.2,305.3 419.4,306.2 425.4,307.3 429.9,308.5 431.5,309.2 432.7,309.8 433.4,310.5 433.6,311.0 433.4,311.5 432.7,312.2 431.5,312.8 429.9,313.5 425.4,314.7 420.5,315.6 413.5,316.5 406.8,317.1 399.7,317.5 392.3,317.6 385.0,317.5 377.8,317.2 371.0,316.7 363.8,315.8 357.8,314.7 353.3,313.5 351.7,312.8 350.5,312.2 349.8,311.5 349.6,311.0Z" fill="#3a9ed6"/>
<path d="M357.6,311.0 357.8,310.5 358.4,309.9 360.1,308.9 363.5,307.8 367.3,307.0 372.9,306.2 378.2,305.7 385.0,305.3 391.0,305.2 397.0,305.3 403.9,305.6 409.3,306.1 415.0,306.9 419.0,307.7 422.6,308.7 423.9,309.3 424.8,309.9 425.4,310.5 425.6,311.0 425.4,311.5 424.8,312.1 423.1,313.1 419.7,314.2 415.9,315.0 410.3,315.8 405.0,316.3 398.2,316.7 392.2,316.8 386.2,316.7 379.3,316.4 373.9,315.9 368.2,315.1 364.2,314.3 360.6,313.3 359.3,312.7 358.4,312.1 357.8,311.5 357.6,311.0Z" fill="#55bec8"/>
<path d="M366.1,311.0 366.2,310.6 366.5,310.1 367.1,309.6 368.0,309.1 370.1,308.3 373.4,307.5 376.8,306.9 381.5,306.4 385.8,306.1 391.1,306.0 395.6,306.1 400.8,306.3 405.6,306.8 409.8,307.5 412.6,308.2 415.2,309.1 416.1,309.6 416.7,310.1 417.0,310.6 417.1,311.0 417.0,311.4 416.7,311.9 416.1,312.4 415.2,312.9 413.1,313.7 409.8,314.5 406.4,315.1 401.7,315.6 397.4,315.9 392.1,316.0 387.6,315.9 382.4,315.7 378.3,315.3 374.1,314.6 370.6,313.8 368.0,312.9 367.1,312.4 366.5,311.9 366.2,311.5 366.1,311.0Z" fill="#5cb99a"/>
<path d="M380.6,311.0 380.8,310.5 381.4,310.0 382.3,309.6 383.8,309.2 387.3,308.6 391.4,308.4 395.6,308.6 399.4,309.2 400.9,309.6 401.8,310.0 402.4,310.5 402.6,311.0 402.4,311.5 401.8,312.0 400.9,312.4 399.4,312.8 395.9,313.4 391.8,313.6 387.6,313.4 383.8,312.8 382.5,312.5 381.4,312.0 380.8,311.5 380.6,311.0Z" fill="#1e3596"/>
</g>
<g fill="none" stroke="#13235e" stroke-width="3.4" opacity="0.35" filter="url(#bl)"><path d="M278.2,301.17 289.2,303.20 295.2,304.13 301.2,304.69 306.2,304.79 310.2,304.60 315.2,304.08 320.2,303.31 332.2,301.10 338.2,300.14 345.2,299.30 352.2,298.76 360.2,298.42 371.2,298.25 421.2,298.27 434.2,298.58 440.2,298.91 445.2,299.34 455.2,300.66 468.2,303.02"/><path d="M278.2,295.28 295.2,296.56 301.2,296.80 306.2,296.84 315.2,296.54 338.2,294.84 352.2,294.24 371.2,294.02 421.2,294.03 434.2,294.16 445.2,294.49 455.2,295.06 468.2,296.08"/><path d="M278.2,290.02 295.2,290.54 306.2,290.66 315.2,290.53 338.2,289.84 352.2,289.60 421.2,289.51 445.2,289.70 468.2,290.35"/><path d="M278.2,284.69 306.2,284.93 352.2,284.54 421.2,284.50 445.2,284.57 468.2,284.81"/><path d="M278.2,280.28 306.2,280.38 352.2,280.22 421.2,280.20 468.2,280.33"/><path d="M278.2,275.93 468.2,275.96"/><path d="M278.2,271.21 468.2,271.22"/><path d="M278.2,266.61 468.2,266.61"/><path d="M278.2,261.90 468.2,261.90"/><path d="M278.2,257.30 468.2,257.30"/><path d="M278.2,252.60 468.2,252.60"/><path d="M278.2,320.83 289.2,318.80 295.2,317.87 301.2,317.31 306.2,317.21 310.2,317.40 315.2,317.92 320.2,318.69 332.2,320.90 338.2,321.86 345.2,322.70 352.2,323.24 360.2,323.58 371.2,323.75 421.2,323.73 434.2,323.42 440.2,323.09 445.2,322.66 455.2,321.34 468.2,318.98"/><path d="M278.2,326.08 295.2,324.67 301.2,324.40 306.2,324.36 315.2,324.69 338.2,326.57 352.2,327.24 371.2,327.48 421.2,327.47 434.2,327.32 445.2,326.96 455.2,326.33 468.2,325.20"/><path d="M278.2,331.42 295.2,330.85 306.2,330.72 315.2,330.86 338.2,331.62 352.2,331.89 421.2,331.99 445.2,331.78 468.2,331.06"/><path d="M278.2,336.27 306.2,335.98 352.2,336.46 421.2,336.49 445.2,336.41 468.2,336.12"/><path d="M278.2,340.90 306.2,340.79 352.2,340.98 421.2,341.00 468.2,340.85"/><path d="M278.2,345.76 468.2,345.74"/><path d="M278.2,350.69 468.2,350.68"/><path d="M278.2,355.49 468.2,355.49"/><path d="M278.2,360.30 468.2,360.30"/><path d="M278.2,365.00 468.2,365.00"/><path d="M278.2,369.30 468.2,369.30"/><path d="M330.6,311.0 331.1,310.3 332.8,309.4 334.8,308.5 337.5,307.5 340.8,306.6 344.7,305.6 352.8,304.1 362.3,302.8 371.2,302.0 382.3,301.3 392.2,301.2 402.0,301.3 413.2,301.9 422.3,302.7 431.9,303.9 440.2,305.4 444.2,306.3 447.7,307.3 450.6,308.2 453.2,309.4 454.9,310.3 455.4,311.0 454.9,311.7 453.2,312.6 451.2,313.5 448.5,314.5 445.2,315.4 441.3,316.4 433.2,317.9 423.7,319.2 414.8,320.0 403.7,320.7 393.8,320.8 384.0,320.7 372.8,320.1 363.7,319.3 354.1,318.1 345.8,316.6 341.8,315.7 338.3,314.7 335.4,313.8 332.8,312.6 331.1,311.7 330.6,311.0Z"/><path d="M349.4,311.0 349.6,310.4 350.3,309.8 351.5,309.2 353.1,308.5 357.6,307.2 362.8,306.2 368.9,305.4 375.8,304.8 383.3,304.4 391.0,304.3 398.8,304.4 406.3,304.7 413.3,305.3 420.4,306.2 425.6,307.2 430.1,308.5 431.7,309.2 432.9,309.8 433.6,310.4 433.8,311.0 433.6,311.6 432.9,312.2 431.7,312.8 430.1,313.5 425.6,314.8 420.4,315.8 414.3,316.6 407.4,317.2 399.9,317.6 392.2,317.7 384.4,317.6 376.9,317.3 369.9,316.7 362.8,315.8 357.6,314.8 353.1,313.5 351.5,312.8 350.3,312.2 349.6,311.6 349.4,311.0Z"/><path d="M365.9,311.0 366.0,310.6 366.3,310.1 367.0,309.6 367.9,309.1 370.1,308.2 373.1,307.5 376.7,306.9 381.4,306.4 386.5,306.0 391.3,306.0 396.0,306.0 401.2,306.3 405.4,306.7 409.7,307.4 412.7,308.1 415.3,309.1 416.2,309.6 416.9,310.1 417.2,310.6 417.3,311.0 417.2,311.4 416.9,311.9 416.2,312.4 415.3,312.9 413.1,313.8 410.1,314.5 406.5,315.1 401.8,315.6 396.7,316.0 391.9,316.0 386.5,316.0 382.0,315.7 377.8,315.3 373.5,314.6 370.5,313.9 367.9,312.9 367.0,312.4 366.3,311.9 366.0,311.4 365.9,311.0Z"/></g>
<defs><linearGradient id="lg4_0" gradientUnits="userSpaceOnUse" x1="280.2" y1="0" x2="466.5" y2="0"><stop offset="0.00" stop-color="#eef4fd" stop-opacity="0.68"/><stop offset="0.40" stop-color="#eef4fd" stop-opacity="0.59"/><stop offset="0.80" stop-color="#eef4fd" stop-opacity="0.90"/><stop offset="0.83" stop-color="#eef4fd" stop-opacity="0.72"/><stop offset="0.89" stop-color="#eef4fd" stop-opacity="0.72"/><stop offset="1.00" stop-color="#eef4fd" stop-opacity="0.85"/></linearGradient><linearGradient id="lg4_1" gradientUnits="userSpaceOnUse" x1="280.2" y1="0" x2="466.5" y2="0"><stop offset="0.00" stop-color="#eef4fd" stop-opacity="0.69"/><stop offset="0.20" stop-color="#eef4fd" stop-opacity="0.74"/><stop offset="0.29" stop-color="#eef4fd" stop-opacity="0.58"/><stop offset="0.60" stop-color="#eef4fd" stop-opacity="0.86"/><stop offset="0.69" stop-color="#eef4fd" stop-opacity="0.51"/><stop offset="0.70" stop-color="#eef4fd" stop-opacity="0.73"/><stop offset="1.00" stop-color="#eef4fd" stop-opacity="0.88"/></linearGradient><linearGradient id="lg4_2" gradientUnits="userSpaceOnUse" x1="280.2" y1="0" x2="466.5" y2="0"><stop offset="0.00" stop-color="#eef4fd" stop-opacity="0.53"/><stop offset="0.34" stop-color="#eef4fd" stop-opacity="0.81"/><stop offset="0.59" stop-color="#eef4fd" stop-opacity="0.52"/><stop offset="0.77" stop-color="#eef4fd" stop-opacity="0.73"/><stop offset="1.00" stop-color="#eef4fd" stop-opacity="0.93"/></linearGradient><linearGradient id="lg4_3" gradientUnits="userSpaceOnUse" x1="280.2" y1="0" x2="466.5" y2="0"><stop offset="0.00" stop-color="#eef4fd" stop-opacity="0.67"/><stop offset="0.05" stop-color="#eef4fd" stop-opacity="0.66"/><stop offset="0.23" stop-color="#eef4fd" stop-opacity="0.73"/><stop offset="0.76" stop-color="#eef4fd" stop-opacity="0.91"/><stop offset="0.87" stop-color="#eef4fd" stop-opacity="0.61"/><stop offset="0.95" stop-color="#eef4fd" stop-opacity="0.84"/><stop offset="1.00" stop-color="#eef4fd" stop-opacity="0.99"/></linearGradient><linearGradient id="lg4_4" gradientUnits="userSpaceOnUse" x1="280.2" y1="0" x2="466.5" y2="0"><stop offset="0.00" stop-color="#eef4fd" stop-opacity="0.61"/><stop offset="0.06" stop-color="#eef4fd" stop-opacity="0.78"/><stop offset="0.26" stop-color="#eef4fd" stop-opacity="0.71"/><stop offset="0.58" stop-color="#eef4fd" stop-opacity="0.89"/><stop offset="0.92" stop-color="#eef4fd" stop-opacity="0.80"/><stop offset="1.00" stop-color="#eef4fd" stop-opacity="0.89"/></linearGradient><linearGradient id="lg4_5" gradientUnits="userSpaceOnUse" x1="280.2" y1="0" x2="466.5" y2="0"><stop offset="0.00" stop-color="#eef4fd" stop-opacity="0.80"/><stop offset="0.09" stop-color="#eef4fd" stop-opacity="0.93"/><stop offset="0.47" stop-color="#eef4fd" stop-opacity="0.55"/><stop offset="0.61" stop-color="#eef4fd" stop-opacity="0.97"/><stop offset="0.78" stop-color="#eef4fd" stop-opacity="0.63"/><stop offset="1.00" stop-color="#eef4fd" stop-opacity="0.55"/></linearGradient><linearGradient id="lg4_6" gradientUnits="userSpaceOnUse" x1="280.2" y1="0" x2="466.5" y2="0"><stop offset="0.00" stop-color="#eef4fd" stop-opacity="0.67"/><stop offset="0.25" stop-color="#eef4fd" stop-opacity="0.80"/><stop offset="0.60" stop-color="#eef4fd" stop-opacity="0.72"/><stop offset="0.63" stop-color="#eef4fd" stop-opacity="0.56"/><stop offset="0.74" stop-color="#eef4fd" stop-opacity="0.92"/><stop offset="0.80" stop-color="#eef4fd" stop-opacity="0.80"/><stop offset="0.83" stop-color="#eef4fd" stop-opacity="0.91"/><stop offset="1.00" stop-color="#eef4fd" stop-opacity="0.60"/></linearGradient><linearGradient id="lg4_7" gradientUnits="userSpaceOnUse" x1="280.2" y1="0" x2="466.5" y2="0"><stop offset="0.00" stop-color="#eef4fd" stop-opacity="0.67"/><stop offset="0.12" stop-color="#eef4fd" stop-opacity="0.74"/><stop offset="0.47" stop-color="#eef4fd" stop-opacity="0.54"/><stop offset="0.71" stop-color="#eef4fd" stop-opacity="0.78"/><stop offset="1.00" stop-color="#eef4fd" stop-opacity="0.87"/></linearGradient><linearGradient id="lg4_8" gradientUnits="userSpaceOnUse" x1="280.2" y1="0" x2="466.5" y2="0"><stop offset="0.00" stop-color="#eef4fd" stop-opacity="0.62"/><stop offset="0.11" stop-color="#eef4fd" stop-opacity="0.72"/><stop offset="0.11" stop-color="#eef4fd" stop-opacity="0.63"/><stop offset="0.27" stop-color="#eef4fd" stop-opacity="0.66"/><stop offset="0.52" stop-color="#eef4fd" stop-opacity="0.87"/><stop offset="0.76" stop-color="#eef4fd" stop-opacity="0.60"/><stop offset="0.80" stop-color="#eef4fd" stop-opacity="0.61"/><stop offset="1.00" stop-color="#eef4fd" stop-opacity="0.94"/></linearGradient><linearGradient id="lg4_9" gradientUnits="userSpaceOnUse" x1="280.2" y1="0" x2="466.5" y2="0"><stop offset="0.00" stop-color="#eef4fd" stop-opacity="0.74"/><stop offset="0.43" stop-color="#eef4fd" stop-opacity="0.89"/><stop offset="0.53" stop-color="#eef4fd" stop-opacity="0.70"/><stop offset="0.86" stop-color="#eef4fd" stop-opacity="1.00"/><stop offset="0.89" stop-color="#eef4fd" stop-opacity="0.96"/><stop offset="0.90" stop-color="#eef4fd" stop-opacity="0.65"/><stop offset="0.90" stop-color="#eef4fd" stop-opacity="0.97"/><stop offset="1.00" stop-color="#eef4fd" stop-opacity="0.59"/></linearGradient><linearGradient id="lg4_10" gradientUnits="userSpaceOnUse" x1="280.2" y1="0" x2="466.5" y2="0"><stop offset="0.00" stop-color="#eef4fd" stop-opacity="0.53"/><stop offset="0.08" stop-color="#eef4fd" stop-opacity="0.74"/><stop offset="0.19" stop-color="#eef4fd" stop-opacity="0.60"/><stop offset="0.50" stop-color="#eef4fd" stop-opacity="0.60"/><stop offset="1.00" stop-color="#eef4fd" stop-opacity="0.75"/></linearGradient><linearGradient id="lg4_11" gradientUnits="userSpaceOnUse" x1="280.2" y1="0" x2="466.5" y2="0"><stop offset="0.00" stop-color="#eef4fd" stop-opacity="0.64"/><stop offset="0.36" stop-color="#eef4fd" stop-opacity="0.55"/><stop offset="0.72" stop-color="#eef4fd" stop-opacity="0.65"/><stop offset="0.72" stop-color="#eef4fd" stop-opacity="0.71"/><stop offset="1.00" stop-color="#eef4fd" stop-opacity="0.54"/></linearGradient><linearGradient id="lg4_12" gradientUnits="userSpaceOnUse" x1="280.2" y1="0" x2="466.5" y2="0"><stop offset="0.00" stop-color="#eef4fd" stop-opacity="0.90"/><stop offset="0.31" stop-color="#eef4fd" stop-opacity="0.82"/><stop offset="0.39" stop-color="#eef4fd" stop-opacity="0.97"/><stop offset="0.49" stop-color="#eef4fd" stop-opacity="0.72"/><stop offset="0.78" stop-color="#eef4fd" stop-opacity="0.97"/><stop offset="1.00" stop-color="#eef4fd" stop-opacity="0.74"/></linearGradient><linearGradient id="lg4_13" gradientUnits="userSpaceOnUse" x1="280.2" y1="0" x2="466.5" y2="0"><stop offset="0.00" stop-color="#eef4fd" stop-opacity="0.94"/><stop offset="0.31" stop-color="#eef4fd" stop-opacity="0.90"/><stop offset="0.37" stop-color="#eef4fd" stop-opacity="0.65"/><stop offset="0.47" stop-color="#eef4fd" stop-opacity="0.62"/><stop offset="0.82" stop-color="#eef4fd" stop-opacity="0.90"/><stop offset="1.00" stop-color="#eef4fd" stop-opacity="0.51"/></linearGradient><linearGradient id="lg4_14" gradientUnits="userSpaceOnUse" x1="280.2" y1="0" x2="466.5" y2="0"><stop offset="0.00" stop-color="#eef4fd" stop-opacity="0.50"/><stop offset="0.07" stop-color="#eef4fd" stop-opacity="0.99"/><stop offset="0.18" stop-color="#eef4fd" stop-opacity="0.90"/><stop offset="0.62" stop-color="#eef4fd" stop-opacity="0.68"/><stop offset="0.91" stop-color="#eef4fd" stop-opacity="0.98"/><stop offset="1.00" stop-color="#eef4fd" stop-opacity="0.68"/></linearGradient><linearGradient id="lg4_15" gradientUnits="userSpaceOnUse" x1="280.2" y1="0" x2="466.5" y2="0"><stop offset="0.00" stop-color="#eef4fd" stop-opacity="0.95"/><stop offset="0.26" stop-color="#eef4fd" stop-opacity="0.92"/><stop offset="0.30" stop-color="#eef4fd" stop-opacity="0.80"/><stop offset="0.49" stop-color="#eef4fd" stop-opacity="0.91"/><stop offset="1.00" stop-color="#eef4fd" stop-opacity="0.73"/></linearGradient><linearGradient id="lg4_16" gradientUnits="userSpaceOnUse" x1="280.2" y1="0" x2="466.5" y2="0"><stop offset="0.00" stop-color="#eef4fd" stop-opacity="0.71"/><stop offset="0.09" stop-color="#eef4fd" stop-opacity="0.81"/><stop offset="0.27" stop-color="#eef4fd" stop-opacity="0.84"/><stop offset="0.28" stop-color="#eef4fd" stop-opacity="0.96"/><stop offset="0.43" stop-color="#eef4fd" stop-opacity="0.90"/><stop offset="0.77" stop-color="#eef4fd" stop-opacity="0.62"/><stop offset="1.00" stop-color="#eef4fd" stop-opacity="0.57"/></linearGradient><linearGradient id="lg4_17" gradientUnits="userSpaceOnUse" x1="280.2" y1="0" x2="466.5" y2="0"><stop offset="0.00" stop-color="#eef4fd" stop-opacity="0.82"/><stop offset="0.07" stop-color="#eef4fd" stop-opacity="0.95"/><stop offset="0.20" stop-color="#eef4fd" stop-opacity="0.95"/><stop offset="0.30" stop-color="#eef4fd" stop-opacity="0.73"/><stop offset="0.51" stop-color="#eef4fd" stop-opacity="0.83"/><stop offset="0.55" stop-color="#eef4fd" stop-opacity="0.96"/><stop offset="0.80" stop-color="#eef4fd" stop-opacity="0.91"/><stop offset="1.00" stop-color="#eef4fd" stop-opacity="0.80"/></linearGradient><linearGradient id="lg4_18" gradientUnits="userSpaceOnUse" x1="280.2" y1="0" x2="466.5" y2="0"><stop offset="0.00" stop-color="#eef4fd" stop-opacity="0.55"/><stop offset="0.12" stop-color="#eef4fd" stop-opacity="0.89"/><stop offset="0.18" stop-color="#eef4fd" stop-opacity="0.72"/><stop offset="0.31" stop-color="#eef4fd" stop-opacity="0.64"/><stop offset="0.38" stop-color="#eef4fd" stop-opacity="0.63"/><stop offset="0.62" stop-color="#eef4fd" stop-opacity="0.64"/><stop offset="0.80" stop-color="#eef4fd" stop-opacity="0.76"/><stop offset="1.00" stop-color="#eef4fd" stop-opacity="0.79"/></linearGradient><linearGradient id="lg4_19" gradientUnits="userSpaceOnUse" x1="280.2" y1="0" x2="466.5" y2="0"><stop offset="0.00" stop-color="#eef4fd" stop-opacity="0.97"/><stop offset="0.42" stop-color="#eef4fd" stop-opacity="0.81"/><stop offset="0.52" stop-color="#eef4fd" stop-opacity="0.52"/><stop offset="0.79" stop-color="#eef4fd" stop-opacity="0.79"/><stop offset="0.82" stop-color="#eef4fd" stop-opacity="0.77"/><stop offset="1.00" stop-color="#eef4fd" stop-opacity="0.74"/></linearGradient><linearGradient id="lg4_20" gradientUnits="userSpaceOnUse" x1="280.2" y1="0" x2="466.5" y2="0"><stop offset="0.00" stop-color="#eef4fd" stop-opacity="0.52"/><stop offset="0.12" stop-color="#eef4fd" stop-opacity="0.74"/><stop offset="0.29" stop-color="#eef4fd" stop-opacity="0.88"/><stop offset="0.44" stop-color="#eef4fd" stop-opacity="0.91"/><stop offset="0.73" stop-color="#eef4fd" stop-opacity="0.72"/><stop offset="0.76" stop-color="#eef4fd" stop-opacity="0.66"/><stop offset="1.00" stop-color="#eef4fd" stop-opacity="0.67"/></linearGradient><linearGradient id="lg4_21" gradientUnits="userSpaceOnUse" x1="280.2" y1="0" x2="466.5" y2="0"><stop offset="0.00" stop-color="#eef4fd" stop-opacity="0.81"/><stop offset="0.08" stop-color="#eef4fd" stop-opacity="0.78"/><stop offset="0.09" stop-color="#eef4fd" stop-opacity="0.52"/><stop offset="0.24" stop-color="#eef4fd" stop-opacity="0.71"/><stop offset="0.34" stop-color="#eef4fd" stop-opacity="0.71"/><stop offset="0.41" stop-color="#eef4fd" stop-opacity="0.95"/><stop offset="0.90" stop-color="#eef4fd" stop-opacity="0.75"/><stop offset="1.00" stop-color="#eef4fd" stop-opacity="0.98"/></linearGradient></defs>
<g fill="none" stroke-width="1.2" filter="url(#bl2)">
<path d="M278.2,301.17 289.2,303.20 295.2,304.13 301.2,304.69 306.2,304.79 310.2,304.60 315.2,304.08 320.2,303.31 332.2,301.10 338.2,300.14 345.2,299.30 352.2,298.76 360.2,298.42 371.2,298.25 421.2,298.27 434.2,298.58 440.2,298.91 445.2,299.34 455.2,300.66 468.2,303.02" stroke="url(#lg4_0)"/>
<path d="M278.2,295.28 295.2,296.56 301.2,296.80 306.2,296.84 315.2,296.54 338.2,294.84 352.2,294.24 371.2,294.02 421.2,294.03 434.2,294.16 445.2,294.49 455.2,295.06 468.2,296.08" stroke="url(#lg4_1)"/>
<path d="M278.2,290.02 295.2,290.54 306.2,290.66 315.2,290.53 338.2,289.84 352.2,289.60 421.2,289.51 445.2,289.70 468.2,290.35" stroke="url(#lg4_2)"/>
<path d="M278.2,284.69 306.2,284.93 352.2,284.54 421.2,284.50 445.2,284.57 468.2,284.81" stroke="url(#lg4_3)"/>
<path d="M278.2,280.28 306.2,280.38 352.2,280.22 421.2,280.20 468.2,280.33" stroke="url(#lg4_4)"/>
<path d="M278.2,275.93 468.2,275.96" stroke="url(#lg4_5)"/>
<path d="M278.2,271.21 468.2,271.22" stroke="url(#lg4_6)"/>
<path d="M278.2,266.61 468.2,266.61" stroke="url(#lg4_7)"/>
<path d="M278.2,261.90 468.2,261.90" stroke="url(#lg4_8)"/>
<path d="M278.2,257.30 468.2,257.30" stroke="url(#lg4_9)"/>
<path d="M278.2,252.60 468.2,252.60" stroke="url(#lg4_10)"/>
<path d="M278.2,320.83 289.2,318.80 295.2,317.87 301.2,317.31 306.2,317.21 310.2,317.40 315.2,317.92 320.2,318.69 332.2,320.90 338.2,321.86 345.2,322.70 352.2,323.24 360.2,323.58 371.2,323.75 421.2,323.73 434.2,323.42 440.2,323.09 445.2,322.66 455.2,321.34 468.2,318.98" stroke="url(#lg4_11)"/>
<path d="M278.2,326.08 295.2,324.67 301.2,324.40 306.2,324.36 315.2,324.69 338.2,326.57 352.2,327.24 371.2,327.48 421.2,327.47 434.2,327.32 445.2,326.96 455.2,326.33 468.2,325.20" stroke="url(#lg4_12)"/>
<path d="M278.2,331.42 295.2,330.85 306.2,330.72 315.2,330.86 338.2,331.62 352.2,331.89 421.2,331.99 445.2,331.78 468.2,331.06" stroke="url(#lg4_13)"/>
<path d="M278.2,336.27 306.2,335.98 352.2,336.46 421.2,336.49 445.2,336.41 468.2,336.12" stroke="url(#lg4_14)"/>
<path d="M278.2,340.90 306.2,340.79 352.2,340.98 421.2,341.00 468.2,340.85" stroke="url(#lg4_15)"/>
<path d="M278.2,345.76 468.2,345.74" stroke="url(#lg4_16)"/>
<path d="M278.2,350.69 468.2,350.68" stroke="url(#lg4_17)"/>
<path d="M278.2,355.49 468.2,355.49" stroke="url(#lg4_18)"/>
<path d="M278.2,360.30 468.2,360.30" stroke="url(#lg4_19)"/>
<path d="M278.2,365.00 468.2,365.00" stroke="url(#lg4_20)"/>
<path d="M278.2,369.30 468.2,369.30" stroke="url(#lg4_21)"/>
<path d="M330.6,311.0 331.1,310.3 332.8,309.4 334.8,308.5 337.5,307.5 340.8,306.6 344.7,305.6 352.8,304.1 362.3,302.8 371.2,302.0 382.3,301.3 392.2,301.2 402.0,301.3 413.2,301.9 422.3,302.7 431.9,303.9 440.2,305.4 444.2,306.3 447.7,307.3 450.6,308.2 453.2,309.4 454.9,310.3 455.4,311.0 454.9,311.7 453.2,312.6 451.2,313.5 448.5,314.5 445.2,315.4 441.3,316.4 433.2,317.9 423.7,319.2 414.8,320.0 403.7,320.7 393.8,320.8 384.0,320.7 372.8,320.1 363.7,319.3 354.1,318.1 345.8,316.6 341.8,315.7 338.3,314.7 335.4,313.8 332.8,312.6 331.1,311.7 330.6,311.0Z" stroke="#eef4fd" opacity="0.95"/>
<path d="M349.4,311.0 349.6,310.4 350.3,309.8 351.5,309.2 353.1,308.5 357.6,307.2 362.8,306.2 368.9,305.4 375.8,304.8 383.3,304.4 391.0,304.3 398.8,304.4 406.3,304.7 413.3,305.3 420.4,306.2 425.6,307.2 430.1,308.5 431.7,309.2 432.9,309.8 433.6,310.4 433.8,311.0 433.6,311.6 432.9,312.2 431.7,312.8 430.1,313.5 425.6,314.8 420.4,315.8 414.3,316.6 407.4,317.2 399.9,317.6 392.2,317.7 384.4,317.6 376.9,317.3 369.9,316.7 362.8,315.8 357.6,314.8 353.1,313.5 351.5,312.8 350.3,312.2 349.6,311.6 349.4,311.0Z" stroke="#eef4fd" opacity="0.95"/>
<path d="M365.9,311.0 366.0,310.6 366.3,310.1 367.0,309.6 367.9,309.1 370.1,308.2 373.1,307.5 376.7,306.9 381.4,306.4 386.5,306.0 391.3,306.0 396.0,306.0 401.2,306.3 405.4,306.7 409.7,307.4 412.7,308.1 415.3,309.1 416.2,309.6 416.9,310.1 417.2,310.6 417.3,311.0 417.2,311.4 416.9,311.9 416.2,312.4 415.3,312.9 413.1,313.8 410.1,314.5 406.5,315.1 401.8,315.6 396.7,316.0 391.9,316.0 386.5,316.0 382.0,315.7 377.8,315.3 373.5,314.6 370.5,313.9 367.9,312.9 367.0,312.4 366.3,311.9 366.0,311.4 365.9,311.0Z" stroke="#eef4fd" opacity="0.95"/>
</g>
</g>
<rect x="280.2" y="248.80" width="186.30" height="1.6" fill="#7f88c0"/>
<rect x="280.2" y="371.30" width="186.30" height="1.6" fill="#7f88c0"/>
<rect x="280.2" y="248.00" width="186.30" height="0.9" fill="#262a3a"/>
<rect x="280.2" y="372.80" width="186.30" height="0.9" fill="#262a3a"/>
<rect x="280.20" y="248.00" width="1" height="125.70" fill="#1c2236"/>
<rect x="465.50" y="248.00" width="1" height="125.70" fill="#1c2236"/>
<path d="M305.04,248.00v3M305.04,373.70v-3M329.88,248.00v3M329.88,373.70v-3M354.72,248.00v3M354.72,373.70v-3M379.56,248.00v3M379.56,373.70v-3M404.40,248.00v3M404.40,373.70v-3M429.24,248.00v3M429.24,373.70v-3M454.08,248.00v3M454.08,373.70v-3" stroke="#20242e" stroke-width="1" fill="none"/>
<path d="M286.41,248.00v2M286.41,373.70v-2M292.62,248.00v2M292.62,373.70v-2M298.83,248.00v2M298.83,373.70v-2M311.25,248.00v2M311.25,373.70v-2M317.46,248.00v2M317.46,373.70v-2M323.67,248.00v2M323.67,373.70v-2M336.09,248.00v2M336.09,373.70v-2M342.30,248.00v2M342.30,373.70v-2M348.51,248.00v2M348.51,373.70v-2M360.93,248.00v2M360.93,373.70v-2M367.14,248.00v2M367.14,373.70v-2M373.35,248.00v2M373.35,373.70v-2M385.77,248.00v2M385.77,373.70v-2M391.98,248.00v2M391.98,373.70v-2M398.19,248.00v2M398.19,373.70v-2M410.61,248.00v2M410.61,373.70v-2M416.82,248.00v2M416.82,373.70v-2M423.03,248.00v2M423.03,373.70v-2M435.45,248.00v2M435.45,373.70v-2M441.66,248.00v2M441.66,373.70v-2M447.87,248.00v2M447.87,373.70v-2M460.29,248.00v2M460.29,373.70v-2" stroke="#20242e" stroke-width="0.8" fill="none" opacity="0.3"/>
<clipPath id="cp5"><rect x="513.2" y="230.4" width="186.80" height="160.20"/></clipPath>
<g clip-path="url(#cp5)">
<rect x="513.2" y="230.4" width="186.80" height="160.20" fill="#1c206a"/>
<ellipse cx="663" cy="310.40" rx="14" ry="9" fill="#0a0e38" opacity="0.7" filter="url(#g2)"/>
<g filter="url(#bl)">
<path d="M505.0,310.4 505.7,309.8 507.8,308.7 511.2,307.5 514.6,306.4 518.7,305.4 523.4,304.4 532.5,302.8 542.9,301.5 552.0,300.7 563.9,300.1 573.8,299.9 583.6,300.0 595.7,300.6 607.1,301.5 617.5,302.8 626.6,304.4 631.3,305.4 635.4,306.4 638.8,307.5 642.2,308.7 644.3,309.8 645.0,310.4 644.3,311.0 642.2,312.1 638.8,313.3 635.4,314.4 631.3,315.4 626.6,316.4 617.5,318.0 607.1,319.3 598.0,320.1 586.1,320.7 576.2,320.9 566.4,320.8 554.3,320.2 542.9,319.3 532.5,318.0 523.4,316.4 518.7,315.4 514.6,314.4 511.2,313.3 507.8,312.1 505.7,311.0 505.0,310.4Z" fill="#1e2c86"/>
<path d="M514.0,310.4 514.1,310.1 514.5,309.7 515.7,309.0 517.4,308.2 519.7,307.4 522.5,306.6 525.9,305.8 532.6,304.6 540.4,303.6 549.1,302.8 558.4,302.3 568.0,302.1 577.7,302.2 587.1,302.7 595.9,303.4 603.9,304.4 610.9,305.6 614.4,306.3 617.4,307.1 619.9,307.9 621.8,308.7 623.5,309.7 623.9,310.1 624.0,310.4 623.9,310.7 623.5,311.1 622.3,311.8 620.6,312.6 618.3,313.4 615.5,314.2 612.1,315.0 605.4,316.2 597.6,317.2 588.9,318.0 579.6,318.5 570.0,318.7 560.3,318.6 550.9,318.1 542.1,317.4 534.1,316.4 527.1,315.2 523.6,314.5 520.6,313.7 518.1,312.9 516.2,312.1 514.5,311.1 514.1,310.7 514.0,310.4Z" fill="#20318e"/>
<path d="M539.0,310.4 539.1,310.0 539.5,309.4 540.2,308.9 541.2,308.3 543.7,307.5 547.6,306.5 551.6,305.9 557.2,305.3 562.2,305.0 568.5,304.9 573.7,305.0 579.9,305.3 584.6,305.7 589.6,306.4 593.1,307.1 596.3,308.1 597.5,308.7 598.3,309.2 598.8,309.8 599.0,310.4 598.9,310.8 598.5,311.4 597.8,311.9 596.8,312.5 594.3,313.3 590.4,314.3 586.4,314.9 580.8,315.5 575.8,315.8 569.5,315.9 564.3,315.8 558.1,315.5 553.4,315.1 548.4,314.4 544.2,313.5 541.7,312.7 540.5,312.1 539.7,311.6 539.2,311.0 539.0,310.4Z" fill="#223a98"/>
<path d="M677.0,310.4 677.1,310.1 677.5,309.7 678.6,309.0 680.3,308.2 682.6,307.4 685.4,306.6 688.7,305.8 695.2,304.6 702.9,303.6 711.4,302.8 720.6,302.3 730.0,302.1 739.5,302.2 748.8,302.7 757.4,303.4 765.3,304.4 772.1,305.6 775.6,306.3 778.5,307.1 781.0,307.9 782.9,308.7 784.5,309.7 784.9,310.1 785.0,310.4 784.9,310.7 784.5,311.1 783.4,311.8 781.7,312.6 779.4,313.4 776.6,314.2 773.3,315.0 766.8,316.2 759.1,317.2 750.6,318.0 741.4,318.5 732.0,318.7 722.5,318.6 713.2,318.1 704.6,317.4 696.7,316.4 689.9,315.2 686.4,314.5 683.5,313.7 681.0,312.9 679.1,312.1 677.5,311.1 677.1,310.7 677.0,310.4Z" fill="#1e2c86"/>
</g>
<g fill="none" stroke="#13235e" stroke-width="3.4" opacity="0.35" filter="url(#bl)"><path d="M511.2,298.20 523.2,297.73 537.2,297.54 590.2,297.51 610.2,297.64 626.2,298.17 652.2,300.14 658.2,300.42 663.2,300.50 668.2,300.41 674.2,300.11 692.2,298.66 701.2,298.09"/><path d="M511.2,293.97 523.2,293.72 537.2,293.62 610.2,293.67 626.2,293.95 652.2,294.98 663.2,295.17 674.2,294.96 701.2,293.91"/><path d="M511.2,289.68 537.2,289.51 610.2,289.54 626.2,289.68 652.2,290.19 663.2,290.29 674.2,290.19 701.2,289.66"/><path d="M511.2,285.19 610.2,285.12 663.2,285.48 701.2,285.18"/><path d="M511.2,280.34 610.2,280.31 663.2,280.47 701.2,280.33"/><path d="M511.2,275.92 701.2,275.92"/><path d="M511.2,271.41 701.2,271.41"/><path d="M511.2,266.60 701.2,266.60"/><path d="M511.2,262.10 701.2,262.10"/><path d="M511.2,257.30 701.2,257.30"/><path d="M511.2,252.50 701.2,252.50"/><path d="M511.2,247.60 701.2,247.60"/><path d="M511.2,242.80 701.2,242.80"/><path d="M511.2,237.70 701.2,237.70"/><path d="M511.2,322.93 523.2,323.38 537.2,323.56 590.2,323.59 610.2,323.47 626.2,322.97 652.2,321.09 658.2,320.82 663.2,320.75 668.2,320.83 674.2,321.12 692.2,322.49 701.2,323.04"/><path d="M511.2,327.68 537.2,327.98 610.2,327.94 626.2,327.70 652.2,326.80 663.2,326.63 674.2,326.81 701.2,327.73"/><path d="M511.2,332.66 537.2,332.79 610.2,332.77 663.2,332.18 701.2,332.68"/><path d="M511.2,337.54 610.2,337.59 663.2,337.32 701.2,337.55"/><path d="M511.2,342.07 610.2,342.09 663.2,341.97 701.2,342.07"/><path d="M511.2,346.59 701.2,346.59"/><path d="M511.2,350.99 701.2,350.99"/><path d="M511.2,355.80 701.2,355.80"/><path d="M511.2,360.10 701.2,360.10"/><path d="M511.2,365.00 701.2,365.00"/><path d="M511.2,369.80 701.2,369.80"/><path d="M511.2,374.60 701.2,374.60"/><path d="M511.2,379.50 701.2,379.50"/><path d="M511.2,384.00 701.2,384.00"/><path d="M514.4,310.4 514.6,310.1 515.2,309.6 517.2,308.6 519.6,307.6 522.7,306.5 526.5,305.5 530.8,304.4 539.8,302.7 550.2,301.2 560.0,300.2 570.4,299.6 581.0,299.4 591.7,299.6 602.1,300.1 612.0,301.0 622.6,302.4 631.8,304.1 636.3,305.2 640.2,306.3 643.5,307.3 646.6,308.6 648.6,309.6 649.2,310.1 649.4,310.4 649.2,310.7 648.6,311.2 646.6,312.2 644.2,313.2 641.1,314.3 637.3,315.3 633.0,316.4 624.0,318.1 613.6,319.6 603.8,320.6 593.4,321.2 582.8,321.4 572.1,321.2 561.7,320.7 551.8,319.8 541.2,318.4 532.0,316.7 527.5,315.6 523.6,314.5 520.3,313.5 517.2,312.2 515.2,311.2 514.6,310.7 514.4,310.4Z"/><path d="M515.4,310.4 515.6,310.0 515.9,309.6 516.9,308.9 518.6,308.0 520.8,307.2 523.5,306.4 526.8,305.6 533.7,304.4 541.8,303.3 550.8,302.5 560.5,302.0 569.1,301.9 579.1,302.0 588.8,302.5 597.8,303.3 605.9,304.4 612.8,305.6 616.1,306.4 618.8,307.2 621.0,308.0 622.7,308.9 623.7,309.6 624.0,310.0 624.2,310.4 624.0,310.8 623.7,311.2 622.7,311.9 621.0,312.8 618.8,313.6 616.1,314.4 612.8,315.2 605.9,316.4 597.8,317.5 588.8,318.3 579.1,318.8 570.5,318.9 560.5,318.8 550.8,318.3 541.8,317.5 533.7,316.4 526.8,315.2 523.5,314.4 520.8,313.6 518.6,312.8 516.9,311.9 515.9,311.2 515.6,310.8 515.4,310.4Z"/><path d="M539.5,310.4 539.6,309.9 540.0,309.4 540.5,308.9 541.5,308.3 544.0,307.4 547.8,306.5 552.0,305.8 557.4,305.2 562.6,304.8 568.9,304.7 574.3,304.8 580.4,305.1 585.2,305.6 590.1,306.3 594.1,307.3 596.7,308.2 598.3,309.2 598.8,309.8 599.0,310.4 598.9,310.9 598.5,311.4 598.0,311.9 597.0,312.5 594.5,313.4 590.7,314.3 585.9,315.1 581.1,315.6 575.9,316.0 569.6,316.1 564.2,316.0 558.1,315.7 552.6,315.1 548.4,314.5 544.8,313.7 541.8,312.6 540.7,312.0 540.0,311.4 539.7,311.0 539.5,310.4Z"/><path d="M677.0,310.4 677.2,310.0 677.5,309.6 678.5,308.9 680.2,308.0 682.4,307.2 685.1,306.4 688.4,305.6 695.3,304.4 703.4,303.3 712.4,302.5 722.1,302.0 730.7,301.9 740.7,302.0 750.4,302.5 759.4,303.3 767.5,304.4 774.4,305.6 777.7,306.4 780.4,307.2 782.6,308.0 784.3,308.9 785.3,309.6 785.6,310.0 785.8,310.4 785.6,310.8 785.3,311.2 784.3,311.9 782.6,312.8 780.4,313.6 777.7,314.4 774.4,315.2 767.5,316.4 759.4,317.5 750.4,318.3 740.7,318.8 732.1,318.9 722.1,318.8 712.4,318.3 703.4,317.5 695.3,316.4 688.4,315.2 685.1,314.4 682.4,313.6 680.2,312.8 678.5,311.9 677.5,311.2 677.2,310.8 677.0,310.4Z"/></g>
<defs><linearGradient id="lg5_0" gradientUnits="userSpaceOnUse" x1="513.2" y1="0" x2="700.0" y2="0"><stop offset="0.00" stop-color="#eef4fd" stop-opacity="0.56"/><stop offset="0.15" stop-color="#eef4fd" stop-opacity="0.92"/><stop offset="0.62" stop-color="#eef4fd" stop-opacity="0.94"/><stop offset="0.68" stop-color="#eef4fd" stop-opacity="0.97"/><stop offset="1.00" stop-color="#eef4fd" stop-opacity="0.99"/></linearGradient><linearGradient id="lg5_1" gradientUnits="userSpaceOnUse" x1="513.2" y1="0" x2="700.0" y2="0"><stop offset="0.00" stop-color="#eef4fd" stop-opacity="0.64"/><stop offset="0.44" stop-color="#eef4fd" stop-opacity="0.78"/><stop offset="0.47" stop-color="#eef4fd" stop-opacity="0.59"/><stop offset="0.94" stop-color="#eef4fd" stop-opacity="0.74"/><stop offset="1.00" stop-color="#eef4fd" stop-opacity="0.58"/></linearGradient><linearGradient id="lg5_2" gradientUnits="userSpaceOnUse" x1="513.2" y1="0" x2="700.0" y2="0"><stop offset="0.00" stop-color="#eef4fd" stop-opacity="0.82"/><stop offset="0.21" stop-color="#eef4fd" stop-opacity="0.57"/><stop offset="0.66" stop-color="#eef4fd" stop-opacity="0.53"/><stop offset="0.86" stop-color="#eef4fd" stop-opacity="0.88"/><stop offset="0.94" stop-color="#eef4fd" stop-opacity="0.59"/><stop offset="1.00" stop-color="#eef4fd" stop-opacity="0.59"/></linearGradient><linearGradient id="lg5_3" gradientUnits="userSpaceOnUse" x1="513.2" y1="0" x2="700.0" y2="0"><stop offset="0.00" stop-color="#eef4fd" stop-opacity="0.69"/><stop offset="0.09" stop-color="#eef4fd" stop-opacity="0.55"/><stop offset="0.53" stop-color="#eef4fd" stop-opacity="0.69"/><stop offset="0.84" stop-color="#eef4fd" stop-opacity="0.99"/><stop offset="0.91" stop-color="#eef4fd" stop-opacity="0.64"/><stop offset="1.00" stop-color="#eef4fd" stop-opacity="0.57"/></linearGradient><linearGradient id="lg5_4" gradientUnits="userSpaceOnUse" x1="513.2" y1="0" x2="700.0" y2="0"><stop offset="0.00" stop-color="#eef4fd" stop-opacity="0.97"/><stop offset="0.32" stop-color="#eef4fd" stop-opacity="0.50"/><stop offset="0.40" stop-color="#eef4fd" stop-opacity="0.69"/><stop offset="0.59" stop-color="#eef4fd" stop-opacity="0.57"/><stop offset="0.89" stop-color="#eef4fd" stop-opacity="0.74"/><stop offset="1.00" stop-color="#eef4fd" stop-opacity="0.53"/></linearGradient><linearGradient id="lg5_5" gradientUnits="userSpaceOnUse" x1="513.2" y1="0" x2="700.0" y2="0"><stop offset="0.00" stop-color="#eef4fd" stop-opacity="0.72"/><stop offset="0.14" stop-color="#eef4fd" stop-opacity="0.70"/><stop offset="0.48" stop-color="#eef4fd" stop-opacity="0.77"/><stop offset="0.53" stop-color="#eef4fd" stop-opacity="0.65"/><stop offset="0.72" stop-color="#eef4fd" stop-opacity="0.57"/><stop offset="0.81" stop-color="#eef4fd" stop-opacity="0.73"/><stop offset="0.82" stop-color="#eef4fd" stop-opacity="0.69"/><stop offset="1.00" stop-color="#eef4fd" stop-opacity="0.88"/></linearGradient><linearGradient id="lg5_6" gradientUnits="userSpaceOnUse" x1="513.2" y1="0" x2="700.0" y2="0"><stop offset="0.00" stop-color="#eef4fd" stop-opacity="0.58"/><stop offset="0.21" stop-color="#eef4fd" stop-opacity="0.63"/><stop offset="0.81" stop-color="#eef4fd" stop-opacity="0.60"/><stop offset="0.81" stop-color="#eef4fd" stop-opacity="0.53"/><stop offset="0.89" stop-color="#eef4fd" stop-opacity="0.99"/><stop offset="0.92" stop-color="#eef4fd" stop-opacity="0.70"/><stop offset="1.00" stop-color="#eef4fd" stop-opacity="0.94"/></linearGradient><linearGradient id="lg5_7" gradientUnits="userSpaceOnUse" x1="513.2" y1="0" x2="700.0" y2="0"><stop offset="0.00" stop-color="#eef4fd" stop-opacity="0.70"/><stop offset="0.16" stop-color="#eef4fd" stop-opacity="0.78"/><stop offset="0.19" stop-color="#eef4fd" stop-opacity="0.69"/><stop offset="0.57" stop-color="#eef4fd" stop-opacity="0.85"/><stop offset="1.00" stop-color="#eef4fd" stop-opacity="0.64"/></linearGradient><linearGradient id="lg5_8" gradientUnits="userSpaceOnUse" x1="513.2" y1="0" x2="700.0" y2="0"><stop offset="0.00" stop-color="#eef4fd" stop-opacity="0.69"/><stop offset="0.18" stop-color="#eef4fd" stop-opacity="0.66"/><stop offset="0.34" stop-color="#eef4fd" stop-opacity="0.68"/><stop offset="0.45" stop-color="#eef4fd" stop-opacity="0.80"/><stop offset="0.51" stop-color="#eef4fd" stop-opacity="0.99"/><stop offset="0.54" stop-color="#eef4fd" stop-opacity="0.97"/><stop offset="0.59" stop-color="#eef4fd" stop-opacity="0.93"/><stop offset="1.00" stop-color="#eef4fd" stop-opacity="0.92"/></linearGradient><linearGradient id="lg5_9" gradientUnits="userSpaceOnUse" x1="513.2" y1="0" x2="700.0" y2="0"><stop offset="0.00" stop-color="#eef4fd" stop-opacity="1.00"/><stop offset="0.21" stop-color="#eef4fd" stop-opacity="0.86"/><stop offset="0.25" stop-color="#eef4fd" stop-opacity="0.62"/><stop offset="0.32" stop-color="#eef4fd" stop-opacity="0.72"/><stop offset="0.59" stop-color="#eef4fd" stop-opacity="0.63"/><stop offset="0.93" stop-color="#eef4fd" stop-opacity="0.56"/><stop offset="1.00" stop-color="#eef4fd" stop-opacity="0.67"/></linearGradient><linearGradient id="lg5_10" gradientUnits="userSpaceOnUse" x1="513.2" y1="0" x2="700.0" y2="0"><stop offset="0.00" stop-color="#eef4fd" stop-opacity="0.53"/><stop offset="0.45" stop-color="#eef4fd" stop-opacity="0.71"/><stop offset="0.53" stop-color="#eef4fd" stop-opacity="0.92"/><stop offset="0.61" stop-color="#eef4fd" stop-opacity="0.89"/><stop offset="0.94" stop-color="#eef4fd" stop-opacity="0.53"/><stop offset="1.00" stop-color="#eef4fd" stop-opacity="0.93"/></linearGradient><linearGradient id="lg5_11" gradientUnits="userSpaceOnUse" x1="513.2" y1="0" x2="700.0" y2="0"><stop offset="0.00" stop-color="#eef4fd" stop-opacity="0.87"/><stop offset="0.10" stop-color="#eef4fd" stop-opacity="0.69"/><stop offset="0.12" stop-color="#eef4fd" stop-opacity="0.78"/><stop offset="0.16" stop-color="#eef4fd" stop-opacity="0.51"/><stop offset="0.24" stop-color="#eef4fd" stop-opacity="0.69"/><stop offset="0.49" stop-color="#eef4fd" stop-opacity="0.69"/><stop offset="0.51" stop-color="#eef4fd" stop-opacity="0.72"/><stop offset="1.00" stop-color="#eef4fd" stop-opacity="0.95"/></linearGradient><linearGradient id="lg5_12" gradientUnits="userSpaceOnUse" x1="513.2" y1="0" x2="700.0" y2="0"><stop offset="0.00" stop-color="#eef4fd" stop-opacity="0.69"/><stop offset="0.18" stop-color="#eef4fd" stop-opacity="0.81"/><stop offset="0.25" stop-color="#eef4fd" stop-opacity="0.57"/><stop offset="0.58" stop-color="#eef4fd" stop-opacity="0.54"/><stop offset="1.00" stop-color="#eef4fd" stop-opacity="0.66"/></linearGradient><linearGradient id="lg5_13" gradientUnits="userSpaceOnUse" x1="513.2" y1="0" x2="700.0" y2="0"><stop offset="0.00" stop-color="#eef4fd" stop-opacity="0.68"/><stop offset="0.08" stop-color="#eef4fd" stop-opacity="0.86"/><stop offset="0.23" stop-color="#eef4fd" stop-opacity="0.90"/><stop offset="0.33" stop-color="#eef4fd" stop-opacity="0.61"/><stop offset="0.45" stop-color="#eef4fd" stop-opacity="0.67"/><stop offset="0.71" stop-color="#eef4fd" stop-opacity="0.79"/><stop offset="1.00" stop-color="#eef4fd" stop-opacity="0.75"/></linearGradient><linearGradient id="lg5_14" gradientUnits="userSpaceOnUse" x1="513.2" y1="0" x2="700.0" y2="0"><stop offset="0.00" stop-color="#eef4fd" stop-opacity="0.94"/><stop offset="0.16" stop-color="#eef4fd" stop-opacity="0.72"/><stop offset="0.18" stop-color="#eef4fd" stop-opacity="0.90"/><stop offset="0.21" stop-color="#eef4fd" stop-opacity="0.69"/><stop offset="0.25" stop-color="#eef4fd" stop-opacity="0.75"/><stop offset="0.33" stop-color="#eef4fd" stop-opacity="0.99"/><stop offset="0.55" stop-color="#eef4fd" stop-opacity="0.74"/><stop offset="1.00" stop-color="#eef4fd" stop-opacity="0.57"/></linearGradient><linearGradient id="lg5_15" gradientUnits="userSpaceOnUse" x1="513.2" y1="0" x2="700.0" y2="0"><stop offset="0.00" stop-color="#eef4fd" stop-opacity="0.72"/><stop offset="0.44" stop-color="#eef4fd" stop-opacity="0.55"/><stop offset="0.51" stop-color="#eef4fd" stop-opacity="0.99"/><stop offset="0.62" stop-color="#eef4fd" stop-opacity="0.85"/><stop offset="0.64" stop-color="#eef4fd" stop-opacity="0.54"/><stop offset="1.00" stop-color="#eef4fd" stop-opacity="0.72"/></linearGradient><linearGradient id="lg5_16" gradientUnits="userSpaceOnUse" x1="513.2" y1="0" x2="700.0" y2="0"><stop offset="0.00" stop-color="#eef4fd" stop-opacity="0.91"/><stop offset="0.06" stop-color="#eef4fd" stop-opacity="0.67"/><stop offset="0.11" stop-color="#eef4fd" stop-opacity="0.71"/><stop offset="0.43" stop-color="#eef4fd" stop-opacity="0.79"/><stop offset="0.48" stop-color="#eef4fd" stop-opacity="0.94"/><stop offset="0.85" stop-color="#eef4fd" stop-opacity="0.60"/><stop offset="1.00" stop-color="#eef4fd" stop-opacity="0.70"/></linearGradient><linearGradient id="lg5_17" gradientUnits="userSpaceOnUse" x1="513.2" y1="0" x2="700.0" y2="0"><stop offset="0.00" stop-color="#eef4fd" stop-opacity="0.75"/><stop offset="0.10" stop-color="#eef4fd" stop-opacity="0.62"/><stop offset="0.52" stop-color="#eef4fd" stop-opacity="0.91"/><stop offset="0.86" stop-color="#eef4fd" stop-opacity="0.59"/><stop offset="1.00" stop-color="#eef4fd" stop-opacity="0.91"/></linearGradient><linearGradient id="lg5_18" gradientUnits="userSpaceOnUse" x1="513.2" y1="0" x2="700.0" y2="0"><stop offset="0.00" stop-color="#eef4fd" stop-opacity="0.95"/><stop offset="0.23" stop-color="#eef4fd" stop-opacity="0.57"/><stop offset="0.31" stop-color="#eef4fd" stop-opacity="0.77"/><stop offset="0.32" stop-color="#eef4fd" stop-opacity="0.81"/><stop offset="0.53" stop-color="#eef4fd" stop-opacity="0.68"/><stop offset="0.65" stop-color="#eef4fd" stop-opacity="0.88"/><stop offset="0.93" stop-color="#eef4fd" stop-opacity="0.95"/><stop offset="1.00" stop-color="#eef4fd" stop-opacity="0.93"/></linearGradient><linearGradient id="lg5_19" gradientUnits="userSpaceOnUse" x1="513.2" y1="0" x2="700.0" y2="0"><stop offset="0.00" stop-color="#eef4fd" stop-opacity="0.75"/><stop offset="0.45" stop-color="#eef4fd" stop-opacity="0.93"/><stop offset="0.62" stop-color="#eef4fd" stop-opacity="0.59"/><stop offset="0.70" stop-color="#eef4fd" stop-opacity="0.55"/><stop offset="0.82" stop-color="#eef4fd" stop-opacity="0.73"/><stop offset="1.00" stop-color="#eef4fd" stop-opacity="0.96"/></linearGradient><linearGradient id="lg5_20" gradientUnits="userSpaceOnUse" x1="513.2" y1="0" x2="700.0" y2="0"><stop offset="0.00" stop-color="#eef4fd" stop-opacity="0.84"/><stop offset="0.27" stop-color="#eef4fd" stop-opacity="0.86"/><stop offset="0.33" stop-color="#eef4fd" stop-opacity="0.62"/><stop offset="0.34" stop-color="#eef4fd" stop-opacity="0.68"/><stop offset="0.73" stop-color="#eef4fd" stop-opacity="0.61"/><stop offset="0.81" stop-color="#eef4fd" stop-opacity="0.64"/><stop offset="0.84" stop-color="#eef4fd" stop-opacity="0.67"/><stop offset="1.00" stop-color="#eef4fd" stop-opacity="0.53"/></linearGradient><linearGradient id="lg5_21" gradientUnits="userSpaceOnUse" x1="513.2" y1="0" x2="700.0" y2="0"><stop offset="0.00" stop-color="#eef4fd" stop-opacity="0.74"/><stop offset="0.20" stop-color="#eef4fd" stop-opacity="0.60"/><stop offset="0.21" stop-color="#eef4fd" stop-opacity="0.91"/><stop offset="0.24" stop-color="#eef4fd" stop-opacity="0.68"/><stop offset="0.32" stop-color="#eef4fd" stop-opacity="0.62"/><stop offset="0.71" stop-color="#eef4fd" stop-opacity="0.84"/><stop offset="1.00" stop-color="#eef4fd" stop-opacity="0.77"/></linearGradient><linearGradient id="lg5_22" gradientUnits="userSpaceOnUse" x1="513.2" y1="0" x2="700.0" y2="0"><stop offset="0.00" stop-color="#eef4fd" stop-opacity="0.75"/><stop offset="0.10" stop-color="#eef4fd" stop-opacity="0.79"/><stop offset="0.45" stop-color="#eef4fd" stop-opacity="0.63"/><stop offset="0.59" stop-color="#eef4fd" stop-opacity="0.95"/><stop offset="0.62" stop-color="#eef4fd" stop-opacity="0.84"/><stop offset="0.76" stop-color="#eef4fd" stop-opacity="0.61"/><stop offset="0.82" stop-color="#eef4fd" stop-opacity="0.91"/><stop offset="1.00" stop-color="#eef4fd" stop-opacity="0.99"/></linearGradient><linearGradient id="lg5_23" gradientUnits="userSpaceOnUse" x1="513.2" y1="0" x2="700.0" y2="0"><stop offset="0.00" stop-color="#eef4fd" stop-opacity="0.93"/><stop offset="0.15" stop-color="#eef4fd" stop-opacity="0.57"/><stop offset="0.42" stop-color="#eef4fd" stop-opacity="0.66"/><stop offset="0.43" stop-color="#eef4fd" stop-opacity="0.67"/><stop offset="0.61" stop-color="#eef4fd" stop-opacity="0.57"/><stop offset="0.73" stop-color="#eef4fd" stop-opacity="0.65"/><stop offset="1.00" stop-color="#eef4fd" stop-opacity="0.81"/></linearGradient><linearGradient id="lg5_24" gradientUnits="userSpaceOnUse" x1="513.2" y1="0" x2="700.0" y2="0"><stop offset="0.00" stop-color="#eef4fd" stop-opacity="0.91"/><stop offset="0.45" stop-color="#eef4fd" stop-opacity="0.60"/><stop offset="0.49" stop-color="#eef4fd" stop-opacity="0.55"/><stop offset="0.57" stop-color="#eef4fd" stop-opacity="0.88"/><stop offset="0.83" stop-color="#eef4fd" stop-opacity="0.78"/><stop offset="1.00" stop-color="#eef4fd" stop-opacity="0.65"/></linearGradient><linearGradient id="lg5_25" gradientUnits="userSpaceOnUse" x1="513.2" y1="0" x2="700.0" y2="0"><stop offset="0.00" stop-color="#eef4fd" stop-opacity="0.51"/><stop offset="0.31" stop-color="#eef4fd" stop-opacity="0.84"/><stop offset="0.54" stop-color="#eef4fd" stop-opacity="0.87"/><stop offset="0.72" stop-color="#eef4fd" stop-opacity="0.68"/><stop offset="0.80" stop-color="#eef4fd" stop-opacity="0.74"/><stop offset="0.94" stop-color="#eef4fd" stop-opacity="0.78"/><stop offset="1.00" stop-color="#eef4fd" stop-opacity="0.62"/></linearGradient><linearGradient id="lg5_26" gradientUnits="userSpaceOnUse" x1="513.2" y1="0" x2="700.0" y2="0"><stop offset="0.00" stop-color="#eef4fd" stop-opacity="0.66"/><stop offset="0.15" stop-color="#eef4fd" stop-opacity="0.86"/><stop offset="0.40" stop-color="#eef4fd" stop-opacity="0.59"/><stop offset="0.55" stop-color="#eef4fd" stop-opacity="0.70"/><stop offset="0.56" stop-color="#eef4fd" stop-opacity="0.60"/><stop offset="1.00" stop-color="#eef4fd" stop-opacity="0.70"/></linearGradient><linearGradient id="lg5_27" gradientUnits="userSpaceOnUse" x1="513.2" y1="0" x2="700.0" y2="0"><stop offset="0.00" stop-color="#eef4fd" stop-opacity="0.58"/><stop offset="0.10" stop-color="#eef4fd" stop-opacity="0.55"/><stop offset="0.15" stop-color="#eef4fd" stop-opacity="0.77"/><stop offset="0.23" stop-color="#eef4fd" stop-opacity="0.96"/><stop offset="0.48" stop-color="#eef4fd" stop-opacity="0.93"/><stop offset="0.50" stop-color="#eef4fd" stop-opacity="0.76"/><stop offset="1.00" stop-color="#eef4fd" stop-opacity="0.70"/></linearGradient></defs>
<g fill="none" stroke-width="1.15" filter="url(#bl2)">
<path d="M511.2,298.20 523.2,297.73 537.2,297.54 590.2,297.51 610.2,297.64 626.2,298.17 652.2,300.14 658.2,300.42 663.2,300.50 668.2,300.41 674.2,300.11 692.2,298.66 701.2,298.09" stroke="url(#lg5_0)"/>
<path d="M511.2,293.97 523.2,293.72 537.2,293.62 610.2,293.67 626.2,293.95 652.2,294.98 663.2,295.17 674.2,294.96 701.2,293.91" stroke="url(#lg5_1)"/>
<path d="M511.2,289.68 537.2,289.51 610.2,289.54 626.2,289.68 652.2,290.19 663.2,290.29 674.2,290.19 701.2,289.66" stroke="url(#lg5_2)"/>
<path d="M511.2,285.19 610.2,285.12 663.2,285.48 701.2,285.18" stroke="url(#lg5_3)"/>
<path d="M511.2,280.34 610.2,280.31 663.2,280.47 701.2,280.33" stroke="url(#lg5_4)"/>
<path d="M511.2,275.92 701.2,275.92" stroke="url(#lg5_5)"/>
<path d="M511.2,271.41 701.2,271.41" stroke="url(#lg5_6)"/>
<path d="M511.2,266.60 701.2,266.60" stroke="url(#lg5_7)"/>
<path d="M511.2,262.10 701.2,262.10" stroke="url(#lg5_8)"/>
<path d="M511.2,257.30 701.2,257.30" stroke="url(#lg5_9)"/>
<path d="M511.2,252.50 701.2,252.50" stroke="url(#lg5_10)"/>
<path d="M511.2,247.60 701.2,247.60" stroke="url(#lg5_11)"/>
<path d="M511.2,242.80 701.2,242.80" stroke="url(#lg5_12)"/>
<path d="M511.2,237.70 701.2,237.70" stroke="url(#lg5_13)"/>
<path d="M511.2,322.93 523.2,323.38 537.2,323.56 590.2,323.59 610.2,323.47 626.2,322.97 652.2,321.09 658.2,320.82 663.2,320.75 668.2,320.83 674.2,321.12 692.2,322.49 701.2,323.04" stroke="url(#lg5_14)"/>
<path d="M511.2,327.68 537.2,327.98 610.2,327.94 626.2,327.70 652.2,326.80 663.2,326.63 674.2,326.81 701.2,327.73" stroke="url(#lg5_15)"/>
<path d="M511.2,332.66 537.2,332.79 610.2,332.77 663.2,332.18 701.2,332.68" stroke="url(#lg5_16)"/>
<path d="M511.2,337.54 610.2,337.59 663.2,337.32 701.2,337.55" stroke="url(#lg5_17)"/>
<path d="M511.2,342.07 610.2,342.09 663.2,341.97 701.2,342.07" stroke="url(#lg5_18)"/>
<path d="M511.2,346.59 701.2,346.59" stroke="url(#lg5_19)"/>
<path d="M511.2,350.99 701.2,350.99" stroke="url(#lg5_20)"/>
<path d="M511.2,355.80 701.2,355.80" stroke="url(#lg5_21)"/>
<path d="M511.2,360.10 701.2,360.10" stroke="url(#lg5_22)"/>
<path d="M511.2,365.00 701.2,365.00" stroke="url(#lg5_23)"/>
<path d="M511.2,369.80 701.2,369.80" stroke="url(#lg5_24)"/>
<path d="M511.2,374.60 701.2,374.60" stroke="url(#lg5_25)"/>
<path d="M511.2,379.50 701.2,379.50" stroke="url(#lg5_26)"/>
<path d="M511.2,384.00 701.2,384.00" stroke="url(#lg5_27)"/>
<path d="M514.4,310.4 514.6,310.1 515.2,309.6 517.2,308.6 519.6,307.6 522.7,306.5 526.5,305.5 530.8,304.4 539.8,302.7 550.2,301.2 560.0,300.2 570.4,299.6 581.0,299.4 591.7,299.6 602.1,300.1 612.0,301.0 622.6,302.4 631.8,304.1 636.3,305.2 640.2,306.3 643.5,307.3 646.6,308.6 648.6,309.6 649.2,310.1 649.4,310.4 649.2,310.7 648.6,311.2 646.6,312.2 644.2,313.2 641.1,314.3 637.3,315.3 633.0,316.4 624.0,318.1 613.6,319.6 603.8,320.6 593.4,321.2 582.8,321.4 572.1,321.2 561.7,320.7 551.8,319.8 541.2,318.4 532.0,316.7 527.5,315.6 523.6,314.5 520.3,313.5 517.2,312.2 515.2,311.2 514.6,310.7 514.4,310.4Z" stroke="#eef4fd" opacity="0.95"/>
<path d="M515.4,310.4 515.6,310.0 515.9,309.6 516.9,308.9 518.6,308.0 520.8,307.2 523.5,306.4 526.8,305.6 533.7,304.4 541.8,303.3 550.8,302.5 560.5,302.0 569.1,301.9 579.1,302.0 588.8,302.5 597.8,303.3 605.9,304.4 612.8,305.6 616.1,306.4 618.8,307.2 621.0,308.0 622.7,308.9 623.7,309.6 624.0,310.0 624.2,310.4 624.0,310.8 623.7,311.2 622.7,311.9 621.0,312.8 618.8,313.6 616.1,314.4 612.8,315.2 605.9,316.4 597.8,317.5 588.8,318.3 579.1,318.8 570.5,318.9 560.5,318.8 550.8,318.3 541.8,317.5 533.7,316.4 526.8,315.2 523.5,314.4 520.8,313.6 518.6,312.8 516.9,311.9 515.9,311.2 515.6,310.8 515.4,310.4Z" stroke="#eef4fd" opacity="0.95"/>
<path d="M539.5,310.4 539.6,309.9 540.0,309.4 540.5,308.9 541.5,308.3 544.0,307.4 547.8,306.5 552.0,305.8 557.4,305.2 562.6,304.8 568.9,304.7 574.3,304.8 580.4,305.1 585.2,305.6 590.1,306.3 594.1,307.3 596.7,308.2 598.3,309.2 598.8,309.8 599.0,310.4 598.9,310.9 598.5,311.4 598.0,311.9 597.0,312.5 594.5,313.4 590.7,314.3 585.9,315.1 581.1,315.6 575.9,316.0 569.6,316.1 564.2,316.0 558.1,315.7 552.6,315.1 548.4,314.5 544.8,313.7 541.8,312.6 540.7,312.0 540.0,311.4 539.7,311.0 539.5,310.4Z" stroke="#eef4fd" opacity="0.95"/>
<path d="M677.0,310.4 677.2,310.0 677.5,309.6 678.5,308.9 680.2,308.0 682.4,307.2 685.1,306.4 688.4,305.6 695.3,304.4 703.4,303.3 712.4,302.5 722.1,302.0 730.7,301.9 740.7,302.0 750.4,302.5 759.4,303.3 767.5,304.4 774.4,305.6 777.7,306.4 780.4,307.2 782.6,308.0 784.3,308.9 785.3,309.6 785.6,310.0 785.8,310.4 785.6,310.8 785.3,311.2 784.3,311.9 782.6,312.8 780.4,313.6 777.7,314.4 774.4,315.2 767.5,316.4 759.4,317.5 750.4,318.3 740.7,318.8 732.1,318.9 722.1,318.8 712.4,318.3 703.4,317.5 695.3,316.4 688.4,315.2 685.1,314.4 682.4,313.6 680.2,312.8 678.5,311.9 677.5,311.2 677.2,310.8 677.0,310.4Z" stroke="#eef4fd" opacity="0.95"/>
</g>
</g>
<rect x="513.2" y="231.20" width="186.80" height="1.6" fill="#7f88c0"/>
<rect x="513.2" y="388.20" width="186.80" height="1.6" fill="#7f88c0"/>
<rect x="513.2" y="230.40" width="186.80" height="0.9" fill="#262a3a"/>
<rect x="513.2" y="389.70" width="186.80" height="0.9" fill="#262a3a"/>
<rect x="513.20" y="230.40" width="1" height="160.20" fill="#1c2236"/>
<rect x="699.00" y="230.40" width="1" height="160.20" fill="#1c2236"/>
<path d="M538.11,230.40v3M538.11,390.60v-3M563.01,230.40v3M563.01,390.60v-3M587.92,230.40v3M587.92,390.60v-3M612.83,230.40v3M612.83,390.60v-3M637.73,230.40v3M637.73,390.60v-3M662.64,230.40v3M662.64,390.60v-3M687.55,230.40v3M687.55,390.60v-3" stroke="#20242e" stroke-width="1" fill="none"/>
<path d="M519.43,230.40v2M519.43,390.60v-2M525.65,230.40v2M525.65,390.60v-2M531.88,230.40v2M531.88,390.60v-2M544.33,230.40v2M544.33,390.60v-2M550.56,230.40v2M550.56,390.60v-2M556.79,230.40v2M556.79,390.60v-2M569.24,230.40v2M569.24,390.60v-2M575.47,230.40v2M575.47,390.60v-2M581.69,230.40v2M581.69,390.60v-2M594.15,230.40v2M594.15,390.60v-2M600.37,230.40v2M600.37,390.60v-2M606.60,230.40v2M606.60,390.60v-2M619.05,230.40v2M619.05,390.60v-2M625.28,230.40v2M625.28,390.60v-2M631.51,230.40v2M631.51,390.60v-2M643.96,230.40v2M643.96,390.60v-2M650.19,230.40v2M650.19,390.60v-2M656.41,230.40v2M656.41,390.60v-2M668.87,230.40v2M668.87,390.60v-2M675.09,230.40v2M675.09,390.60v-2M681.32,230.40v2M681.32,390.60v-2M693.77,230.40v2M693.77,390.60v-2" stroke="#20242e" stroke-width="0.8" fill="none" opacity="0.3"/>
<g stroke="#000" stroke-width="0.22"><text x="52.98" y="64.90" font-size="16" textLength="4.02" lengthAdjust="spacingAndGlyphs" fill="#000">t</text><text x="58.77" y="64.90" font-size="16" textLength="11.05" lengthAdjust="spacingAndGlyphs" fill="#000">=</text><text x="71.16" y="64.90" font-size="16" textLength="18.37" lengthAdjust="spacingAndGlyphs" fill="#000">77</text><text x="94.03" y="64.90" font-size="16" textLength="13.55" lengthAdjust="spacingAndGlyphs" fill="#000">m</text><text x="117.31" y="64.90" font-size="16" textLength="8.38" lengthAdjust="spacingAndGlyphs" fill="#000">n</text><text x="126.11" y="69.40" font-size="10" textLength="5.95" lengthAdjust="spacingAndGlyphs" fill="#000">b</text><text x="133.39" y="64.90" font-size="16" textLength="10.81" lengthAdjust="spacingAndGlyphs" fill="#000">=</text><text x="145.12" y="64.90" font-size="16" textLength="31.77" lengthAdjust="spacingAndGlyphs" fill="#000">4.95</text><text x="178.06" y="56.20" font-size="8.6" textLength="12.61" lengthAdjust="spacingAndGlyphs" fill="#000">+5</text><text x="196.00" y="64.90" font-size="16" textLength="22.09" lengthAdjust="spacingAndGlyphs" fill="#000">cm</text><text x="218.50" y="56.20" font-size="8.6" textLength="7.99" lengthAdjust="spacingAndGlyphs" fill="#000">-3</text><text x="282.25" y="63.50" font-size="16" textLength="4.56" lengthAdjust="spacingAndGlyphs" fill="#000">t</text><text x="287.58" y="63.50" font-size="16" textLength="10.93" lengthAdjust="spacingAndGlyphs" fill="#000">=</text><text x="299.33" y="63.50" font-size="16" textLength="26.72" lengthAdjust="spacingAndGlyphs" fill="#000">116</text><text x="331.42" y="63.50" font-size="16" textLength="13.67" lengthAdjust="spacingAndGlyphs" fill="#000">m</text><text x="354.28" y="63.50" font-size="16" textLength="9.42" lengthAdjust="spacingAndGlyphs" fill="#000">n</text><text x="363.60" y="68.00" font-size="10" textLength="6.81" lengthAdjust="spacingAndGlyphs" fill="#000">b</text><text x="371.58" y="63.50" font-size="16" textLength="10.93" lengthAdjust="spacingAndGlyphs" fill="#000">=</text><text x="383.63" y="63.50" font-size="16" textLength="31.28" lengthAdjust="spacingAndGlyphs" fill="#000">4.62</text><text x="415.97" y="54.80" font-size="8.6" textLength="12.39" lengthAdjust="spacingAndGlyphs" fill="#000">+5</text><text x="433.30" y="63.50" font-size="16" textLength="22.20" lengthAdjust="spacingAndGlyphs" fill="#000">cm</text><text x="456.50" y="54.80" font-size="8.6" textLength="7.99" lengthAdjust="spacingAndGlyphs" fill="#000">-3</text><text x="519.85" y="58.20" font-size="16" textLength="4.56" lengthAdjust="spacingAndGlyphs" fill="#000">t</text><text x="525.18" y="58.20" font-size="16" textLength="10.93" lengthAdjust="spacingAndGlyphs" fill="#000">=</text><text x="536.99" y="58.20" font-size="16" textLength="26.59" lengthAdjust="spacingAndGlyphs" fill="#000">155</text><text x="569.02" y="58.20" font-size="16" textLength="13.67" lengthAdjust="spacingAndGlyphs" fill="#000">m</text><text x="592.30" y="58.20" font-size="16" textLength="9.29" lengthAdjust="spacingAndGlyphs" fill="#000">n</text><text x="601.29" y="62.70" font-size="10" textLength="6.07" lengthAdjust="spacingAndGlyphs" fill="#000">b</text><text x="608.99" y="58.20" font-size="16" textLength="10.81" lengthAdjust="spacingAndGlyphs" fill="#000">=</text><text x="620.98" y="58.20" font-size="16" textLength="22.74" lengthAdjust="spacingAndGlyphs" fill="#000">3.6</text><text x="645.15" y="49.50" font-size="8.6" textLength="12.83" lengthAdjust="spacingAndGlyphs" fill="#000">+5</text><text x="662.69" y="58.20" font-size="16" textLength="22.63" lengthAdjust="spacingAndGlyphs" fill="#000">cm</text><text x="685.60" y="49.50" font-size="8.6" textLength="8.10" lengthAdjust="spacingAndGlyphs" fill="#000">-3</text><text x="48.25" y="247.00" font-size="16" textLength="4.61" lengthAdjust="spacingAndGlyphs" fill="#000">t</text><text x="53.63" y="247.00" font-size="16" textLength="11.05" lengthAdjust="spacingAndGlyphs" fill="#000">=</text><text x="65.55" y="247.00" font-size="16" textLength="26.89" lengthAdjust="spacingAndGlyphs" fill="#000">193</text><text x="97.89" y="247.00" font-size="16" textLength="13.80" lengthAdjust="spacingAndGlyphs" fill="#000">m</text><text x="120.84" y="247.00" font-size="16" textLength="9.81" lengthAdjust="spacingAndGlyphs" fill="#000">n</text><text x="130.29" y="251.50" font-size="10" textLength="6.07" lengthAdjust="spacingAndGlyphs" fill="#000">b</text><text x="138.21" y="247.00" font-size="16" textLength="10.57" lengthAdjust="spacingAndGlyphs" fill="#000">=</text><text x="149.83" y="247.00" font-size="16" textLength="30.14" lengthAdjust="spacingAndGlyphs" fill="#000">2.71</text><text x="181.94" y="238.30" font-size="8.6" textLength="13.04" lengthAdjust="spacingAndGlyphs" fill="#000">+5</text><text x="199.60" y="247.00" font-size="16" textLength="22.20" lengthAdjust="spacingAndGlyphs" fill="#000">cm</text><text x="223.10" y="238.30" font-size="8.6" textLength="7.99" lengthAdjust="spacingAndGlyphs" fill="#000">-3</text><text x="282.25" y="238.70" font-size="16" textLength="4.56" lengthAdjust="spacingAndGlyphs" fill="#000">t</text><text x="287.58" y="238.70" font-size="16" textLength="10.93" lengthAdjust="spacingAndGlyphs" fill="#000">=</text><text x="299.81" y="238.70" font-size="16" textLength="26.28" lengthAdjust="spacingAndGlyphs" fill="#000">232</text><text x="331.42" y="238.70" font-size="16" textLength="13.67" lengthAdjust="spacingAndGlyphs" fill="#000">m</text><text x="354.28" y="238.70" font-size="16" textLength="9.42" lengthAdjust="spacingAndGlyphs" fill="#000">n</text><text x="363.60" y="243.20" font-size="10" textLength="6.81" lengthAdjust="spacingAndGlyphs" fill="#000">b</text><text x="371.62" y="238.70" font-size="16" textLength="10.45" lengthAdjust="spacingAndGlyphs" fill="#000">=</text><text x="383.19" y="238.70" font-size="16" textLength="31.63" lengthAdjust="spacingAndGlyphs" fill="#000">2.06</text><text x="415.94" y="230.00" font-size="8.6" textLength="13.04" lengthAdjust="spacingAndGlyphs" fill="#000">+5</text><text x="433.60" y="238.70" font-size="16" textLength="22.20" lengthAdjust="spacingAndGlyphs" fill="#000">cm</text><text x="456.79" y="230.00" font-size="8.6" textLength="8.33" lengthAdjust="spacingAndGlyphs" fill="#000">-3</text><text x="515.65" y="221.90" font-size="16" textLength="4.58" lengthAdjust="spacingAndGlyphs" fill="#000">t</text><text x="521.01" y="221.90" font-size="16" textLength="10.99" lengthAdjust="spacingAndGlyphs" fill="#000">=</text><text x="533.49" y="221.90" font-size="16" textLength="26.16" lengthAdjust="spacingAndGlyphs" fill="#000">309</text><text x="565.05" y="221.90" font-size="16" textLength="13.74" lengthAdjust="spacingAndGlyphs" fill="#000">m</text><text x="587.68" y="221.90" font-size="16" textLength="9.42" lengthAdjust="spacingAndGlyphs" fill="#000">n</text><text x="597.09" y="226.40" font-size="10" textLength="6.07" lengthAdjust="spacingAndGlyphs" fill="#000">b</text><text x="604.16" y="221.90" font-size="16" textLength="11.18" lengthAdjust="spacingAndGlyphs" fill="#000">=</text><text x="617.87" y="221.90" font-size="16" textLength="28.96" lengthAdjust="spacingAndGlyphs" fill="#000">1.31</text><text x="649.14" y="213.20" font-size="8.6" textLength="13.04" lengthAdjust="spacingAndGlyphs" fill="#000">+5</text><text x="666.48" y="221.90" font-size="16" textLength="22.96" lengthAdjust="spacingAndGlyphs" fill="#000">cm</text><text x="690.33" y="213.20" font-size="8.6" textLength="7.55" lengthAdjust="spacingAndGlyphs" fill="#000">-3</text><text x="37.47" y="177.50" font-size="13.3" textLength="18.86" lengthAdjust="spacingAndGlyphs" fill="#000">0.0</text><text x="62.56" y="177.50" font-size="13.3" textLength="18.86" lengthAdjust="spacingAndGlyphs" fill="#000">0.2</text><text x="87.43" y="177.50" font-size="13.3" textLength="18.86" lengthAdjust="spacingAndGlyphs" fill="#000">0.4</text><text x="112.55" y="177.50" font-size="13.3" textLength="18.86" lengthAdjust="spacingAndGlyphs" fill="#000">0.6</text><text x="137.55" y="177.50" font-size="13.3" textLength="18.86" lengthAdjust="spacingAndGlyphs" fill="#000">0.8</text><text x="162.29" y="177.50" font-size="13.3" textLength="18.86" lengthAdjust="spacingAndGlyphs" fill="#000">1.0</text><text x="187.38" y="177.50" font-size="13.3" textLength="18.86" lengthAdjust="spacingAndGlyphs" fill="#000">1.2</text><text x="212.25" y="177.50" font-size="13.3" textLength="18.86" lengthAdjust="spacingAndGlyphs" fill="#000">1.4</text><text x="15.98" y="84.70" font-size="13.3" textLength="25.89" lengthAdjust="spacingAndGlyphs" fill="#000">1.07</text><text x="15.84" y="120.70" font-size="13.3" textLength="25.89" lengthAdjust="spacingAndGlyphs" fill="#000">0.00</text><text x="11.55" y="154.90" font-size="13.3" textLength="30.31" lengthAdjust="spacingAndGlyphs" fill="#000">-1.07</text><text x="271.47" y="179.20" font-size="13.3" textLength="18.86" lengthAdjust="spacingAndGlyphs" fill="#000">0.0</text><text x="296.39" y="179.20" font-size="13.3" textLength="18.86" lengthAdjust="spacingAndGlyphs" fill="#000">0.2</text><text x="321.08" y="179.20" font-size="13.3" textLength="18.86" lengthAdjust="spacingAndGlyphs" fill="#000">0.4</text><text x="346.03" y="179.20" font-size="13.3" textLength="18.86" lengthAdjust="spacingAndGlyphs" fill="#000">0.6</text><text x="370.86" y="179.20" font-size="13.3" textLength="18.86" lengthAdjust="spacingAndGlyphs" fill="#000">0.8</text><text x="395.42" y="179.20" font-size="13.3" textLength="18.86" lengthAdjust="spacingAndGlyphs" fill="#000">1.0</text><text x="420.34" y="179.20" font-size="13.3" textLength="18.86" lengthAdjust="spacingAndGlyphs" fill="#000">1.2</text><text x="445.03" y="179.20" font-size="13.3" textLength="18.86" lengthAdjust="spacingAndGlyphs" fill="#000">1.4</text><text x="257.36" y="83.20" font-size="13.3" textLength="18.49" lengthAdjust="spacingAndGlyphs" fill="#000">1.1</text><text x="257.23" y="120.80" font-size="13.3" textLength="18.49" lengthAdjust="spacingAndGlyphs" fill="#000">0.0</text><text x="252.94" y="156.00" font-size="13.3" textLength="22.92" lengthAdjust="spacingAndGlyphs" fill="#000">-1.1</text><text x="504.47" y="184.20" font-size="13.3" textLength="18.86" lengthAdjust="spacingAndGlyphs" fill="#000">0.0</text><text x="529.48" y="184.20" font-size="13.3" textLength="18.86" lengthAdjust="spacingAndGlyphs" fill="#000">0.2</text><text x="554.27" y="184.20" font-size="13.3" textLength="18.86" lengthAdjust="spacingAndGlyphs" fill="#000">0.4</text><text x="579.31" y="184.20" font-size="13.3" textLength="18.86" lengthAdjust="spacingAndGlyphs" fill="#000">0.6</text><text x="604.23" y="184.20" font-size="13.3" textLength="18.86" lengthAdjust="spacingAndGlyphs" fill="#000">0.8</text><text x="628.89" y="184.20" font-size="13.3" textLength="18.86" lengthAdjust="spacingAndGlyphs" fill="#000">1.0</text><text x="653.90" y="184.20" font-size="13.3" textLength="18.86" lengthAdjust="spacingAndGlyphs" fill="#000">1.2</text><text x="678.69" y="184.20" font-size="13.3" textLength="18.86" lengthAdjust="spacingAndGlyphs" fill="#000">1.4</text><text x="482.70" y="78.50" font-size="13.3" textLength="25.89" lengthAdjust="spacingAndGlyphs" fill="#000">1.24</text><text x="482.84" y="120.80" font-size="13.3" textLength="25.89" lengthAdjust="spacingAndGlyphs" fill="#000">0.00</text><text x="478.28" y="161.50" font-size="13.3" textLength="30.31" lengthAdjust="spacingAndGlyphs" fill="#000">-1.24</text><text x="37.37" y="388.30" font-size="13.3" textLength="18.86" lengthAdjust="spacingAndGlyphs" fill="#000">0.0</text><text x="62.46" y="388.30" font-size="13.3" textLength="18.86" lengthAdjust="spacingAndGlyphs" fill="#000">0.2</text><text x="87.33" y="388.30" font-size="13.3" textLength="18.86" lengthAdjust="spacingAndGlyphs" fill="#000">0.4</text><text x="112.45" y="388.30" font-size="13.3" textLength="18.86" lengthAdjust="spacingAndGlyphs" fill="#000">0.6</text><text x="137.45" y="388.30" font-size="13.3" textLength="18.86" lengthAdjust="spacingAndGlyphs" fill="#000">0.8</text><text x="162.19" y="388.30" font-size="13.3" textLength="18.86" lengthAdjust="spacingAndGlyphs" fill="#000">1.0</text><text x="187.28" y="388.30" font-size="13.3" textLength="18.86" lengthAdjust="spacingAndGlyphs" fill="#000">1.2</text><text x="212.15" y="388.30" font-size="13.3" textLength="18.86" lengthAdjust="spacingAndGlyphs" fill="#000">1.4</text><text x="15.60" y="266.80" font-size="13.3" textLength="25.89" lengthAdjust="spacingAndGlyphs" fill="#000">1.44</text><text x="15.74" y="317.10" font-size="13.3" textLength="25.89" lengthAdjust="spacingAndGlyphs" fill="#000">0.00</text><text x="11.18" y="364.60" font-size="13.3" textLength="30.31" lengthAdjust="spacingAndGlyphs" fill="#000">-1.44</text><text x="271.47" y="395.80" font-size="13.3" textLength="18.86" lengthAdjust="spacingAndGlyphs" fill="#000">0.0</text><text x="296.39" y="395.80" font-size="13.3" textLength="18.86" lengthAdjust="spacingAndGlyphs" fill="#000">0.2</text><text x="321.08" y="395.80" font-size="13.3" textLength="18.86" lengthAdjust="spacingAndGlyphs" fill="#000">0.4</text><text x="346.03" y="395.80" font-size="13.3" textLength="18.86" lengthAdjust="spacingAndGlyphs" fill="#000">0.6</text><text x="370.86" y="395.80" font-size="13.3" textLength="18.86" lengthAdjust="spacingAndGlyphs" fill="#000">0.8</text><text x="395.42" y="395.80" font-size="13.3" textLength="18.86" lengthAdjust="spacingAndGlyphs" fill="#000">1.0</text><text x="420.34" y="395.80" font-size="13.3" textLength="18.86" lengthAdjust="spacingAndGlyphs" fill="#000">1.2</text><text x="445.03" y="395.80" font-size="13.3" textLength="18.86" lengthAdjust="spacingAndGlyphs" fill="#000">1.4</text><text x="249.88" y="258.70" font-size="13.3" textLength="25.89" lengthAdjust="spacingAndGlyphs" fill="#000">1.65</text><text x="249.84" y="317.40" font-size="13.3" textLength="25.89" lengthAdjust="spacingAndGlyphs" fill="#000">0.00</text><text x="245.45" y="372.80" font-size="13.3" textLength="30.31" lengthAdjust="spacingAndGlyphs" fill="#000">-1.65</text><text x="504.47" y="413.30" font-size="13.3" textLength="18.86" lengthAdjust="spacingAndGlyphs" fill="#000">0.0</text><text x="529.45" y="413.30" font-size="13.3" textLength="18.86" lengthAdjust="spacingAndGlyphs" fill="#000">0.2</text><text x="554.22" y="413.30" font-size="13.3" textLength="18.86" lengthAdjust="spacingAndGlyphs" fill="#000">0.4</text><text x="579.23" y="413.30" font-size="13.3" textLength="18.86" lengthAdjust="spacingAndGlyphs" fill="#000">0.6</text><text x="604.13" y="413.30" font-size="13.3" textLength="18.86" lengthAdjust="spacingAndGlyphs" fill="#000">0.8</text><text x="628.75" y="413.30" font-size="13.3" textLength="18.86" lengthAdjust="spacingAndGlyphs" fill="#000">1.0</text><text x="653.74" y="413.30" font-size="13.3" textLength="18.86" lengthAdjust="spacingAndGlyphs" fill="#000">1.2</text><text x="678.50" y="413.30" font-size="13.3" textLength="18.86" lengthAdjust="spacingAndGlyphs" fill="#000">1.4</text><text x="482.84" y="242.20" font-size="13.3" textLength="25.89" lengthAdjust="spacingAndGlyphs" fill="#000">2.10</text><text x="482.88" y="276.50" font-size="13.3" textLength="25.89" lengthAdjust="spacingAndGlyphs" fill="#000">1.05</text><text x="482.84" y="317.20" font-size="13.3" textLength="25.89" lengthAdjust="spacingAndGlyphs" fill="#000">0.00</text><text x="478.45" y="356.70" font-size="13.3" textLength="30.31" lengthAdjust="spacingAndGlyphs" fill="#000">-1.05</text><text x="478.41" y="391.80" font-size="13.3" textLength="30.31" lengthAdjust="spacingAndGlyphs" fill="#000">-2.10</text><rect x="726.0" y="370.00" width="39.30" height="20.50" fill="#121948" stroke="none"/><rect x="726.0" y="349.80" width="39.30" height="20.50" fill="#1a2670" stroke="none"/><rect x="726.0" y="329.60" width="39.30" height="20.50" fill="#1e2f80" stroke="none"/><rect x="726.0" y="309.40" width="39.30" height="20.50" fill="#233c8b" stroke="none"/><rect x="726.0" y="289.20" width="39.30" height="20.50" fill="#2b4d97" stroke="none"/><rect x="726.0" y="269.00" width="39.30" height="20.50" fill="#3598d2" stroke="none"/><rect x="726.0" y="248.80" width="39.30" height="20.50" fill="#55bec8" stroke="none"/><rect x="726.0" y="228.60" width="39.30" height="20.50" fill="#5bb88f" stroke="none"/><rect x="726.0" y="208.40" width="39.30" height="20.50" fill="#6dbb5d" stroke="none"/><rect x="726.0" y="188.20" width="39.30" height="20.50" fill="#a9c63b" stroke="none"/><rect x="726.0" y="168.00" width="39.30" height="20.50" fill="#eee21f" stroke="none"/><rect x="726.0" y="147.80" width="39.30" height="20.50" fill="#f2b426" stroke="none"/><rect x="726.0" y="127.60" width="39.30" height="20.50" fill="#de6423" stroke="none"/><rect x="726.0" y="107.40" width="39.30" height="20.50" fill="#d72b23" stroke="none"/><rect x="726.0" y="87.20" width="39.30" height="20.50" fill="#cd0c22" stroke="none"/><rect x="726.0" y="67.00" width="39.30" height="20.50" fill="#a51a2a" stroke="none"/><rect x="726.5" y="67.5" width="38.30" height="322.20" fill="none" stroke="#222" stroke-width="1"/><path d="M726.0,75.08h3.8M765.3,75.08h-3.8M726.0,83.16h3.8M765.3,83.16h-3.8M726.0,91.24h3.8M765.3,91.24h-3.8M726.0,99.32h3.8M765.3,99.32h-3.8M726.0,107.40h3.8M765.3,107.40h-3.8M726.0,115.48h3.8M765.3,115.48h-3.8M726.0,123.56h3.8M765.3,123.56h-3.8M726.0,131.64h3.8M765.3,131.64h-3.8M726.0,139.72h3.8M765.3,139.72h-3.8M726.0,147.80h3.8M765.3,147.80h-3.8M726.0,155.88h3.8M765.3,155.88h-3.8M726.0,163.96h3.8M765.3,163.96h-3.8M726.0,172.04h3.8M765.3,172.04h-3.8M726.0,180.12h3.8M765.3,180.12h-3.8M726.0,188.20h3.8M765.3,188.20h-3.8M726.0,196.28h3.8M765.3,196.28h-3.8M726.0,204.36h3.8M765.3,204.36h-3.8M726.0,212.44h3.8M765.3,212.44h-3.8M726.0,220.52h3.8M765.3,220.52h-3.8M726.0,228.60h3.8M765.3,228.60h-3.8M726.0,236.68h3.8M765.3,236.68h-3.8M726.0,244.76h3.8M765.3,244.76h-3.8M726.0,252.84h3.8M765.3,252.84h-3.8M726.0,260.92h3.8M765.3,260.92h-3.8M726.0,269.00h3.8M765.3,269.00h-3.8M726.0,277.08h3.8M765.3,277.08h-3.8M726.0,285.16h3.8M765.3,285.16h-3.8M726.0,293.24h3.8M765.3,293.24h-3.8M726.0,301.32h3.8M765.3,301.32h-3.8M726.0,309.40h3.8M765.3,309.40h-3.8M726.0,317.48h3.8M765.3,317.48h-3.8M726.0,325.56h3.8M765.3,325.56h-3.8M726.0,333.64h3.8M765.3,333.64h-3.8M726.0,341.72h3.8M765.3,341.72h-3.8M726.0,349.80h3.8M765.3,349.80h-3.8M726.0,357.88h3.8M765.3,357.88h-3.8M726.0,365.96h3.8M765.3,365.96h-3.8M726.0,374.04h3.8M765.3,374.04h-3.8M726.0,382.12h3.8M765.3,382.12h-3.8" stroke="#222" stroke-width="0.9"/><text x="770.76" y="78.00" font-size="12.4" textLength="24.20" lengthAdjust="spacingAndGlyphs" fill="#000">1.83</text><text x="795.44" y="79.20" font-size="14" textLength="9.71" lengthAdjust="spacingAndGlyphs" fill="#000">×</text><text x="804.85" y="78.00" font-size="12.4" textLength="13.95" lengthAdjust="spacingAndGlyphs" fill="#000">10</text><text x="821.10" y="70.10" font-size="6" textLength="4.22" lengthAdjust="spacingAndGlyphs" fill="#000">5</text><text x="770.75" y="153.90" font-size="12.4" textLength="24.24" lengthAdjust="spacingAndGlyphs" fill="#000">1.39</text><text x="795.44" y="155.10" font-size="14" textLength="9.71" lengthAdjust="spacingAndGlyphs" fill="#000">×</text><text x="804.85" y="153.90" font-size="12.4" textLength="13.95" lengthAdjust="spacingAndGlyphs" fill="#000">10</text><text x="821.10" y="146.00" font-size="6" textLength="4.22" lengthAdjust="spacingAndGlyphs" fill="#000">5</text><text x="769.79" y="234.70" font-size="12.4" textLength="25.15" lengthAdjust="spacingAndGlyphs" fill="#000">9.55</text><text x="795.44" y="235.90" font-size="14" textLength="9.71" lengthAdjust="spacingAndGlyphs" fill="#000">×</text><text x="804.85" y="234.70" font-size="12.4" textLength="13.95" lengthAdjust="spacingAndGlyphs" fill="#000">10</text><text x="821.10" y="226.80" font-size="6" textLength="4.22" lengthAdjust="spacingAndGlyphs" fill="#000">5</text><text x="769.88" y="315.60" font-size="12.4" textLength="25.07" lengthAdjust="spacingAndGlyphs" fill="#000">5.18</text><text x="795.44" y="316.80" font-size="14" textLength="9.71" lengthAdjust="spacingAndGlyphs" fill="#000">×</text><text x="804.85" y="315.60" font-size="12.4" textLength="13.95" lengthAdjust="spacingAndGlyphs" fill="#000">10</text><text x="821.10" y="307.70" font-size="6" textLength="4.22" lengthAdjust="spacingAndGlyphs" fill="#000">5</text><text x="769.84" y="390.60" font-size="12.4" textLength="25.21" lengthAdjust="spacingAndGlyphs" fill="#000">8.02</text><text x="795.44" y="391.80" font-size="14" textLength="9.71" lengthAdjust="spacingAndGlyphs" fill="#000">×</text><text x="804.85" y="390.60" font-size="12.4" textLength="13.95" lengthAdjust="spacingAndGlyphs" fill="#000">10</text><text x="821.24" y="382.70" font-size="6" textLength="3.97" lengthAdjust="spacingAndGlyphs" fill="#000">4</text><text x="708.49" y="56.50" font-size="19" textLength="10.21" lengthAdjust="spacingAndGlyphs" fill="#000">n</text><text x="725.17" y="56.50" font-size="19" textLength="5.53" lengthAdjust="spacingAndGlyphs" fill="#000">(</text><text x="736.75" y="56.50" font-size="19" textLength="26.99" lengthAdjust="spacingAndGlyphs" fill="#000">cm</text><text x="763.63" y="45.60" font-size="7" textLength="7.55" lengthAdjust="spacingAndGlyphs" fill="#000">-3</text><text x="777.10" y="56.50" font-size="19" textLength="5.78" lengthAdjust="spacingAndGlyphs" fill="#000">)</text></g>
</svg></body></html>
